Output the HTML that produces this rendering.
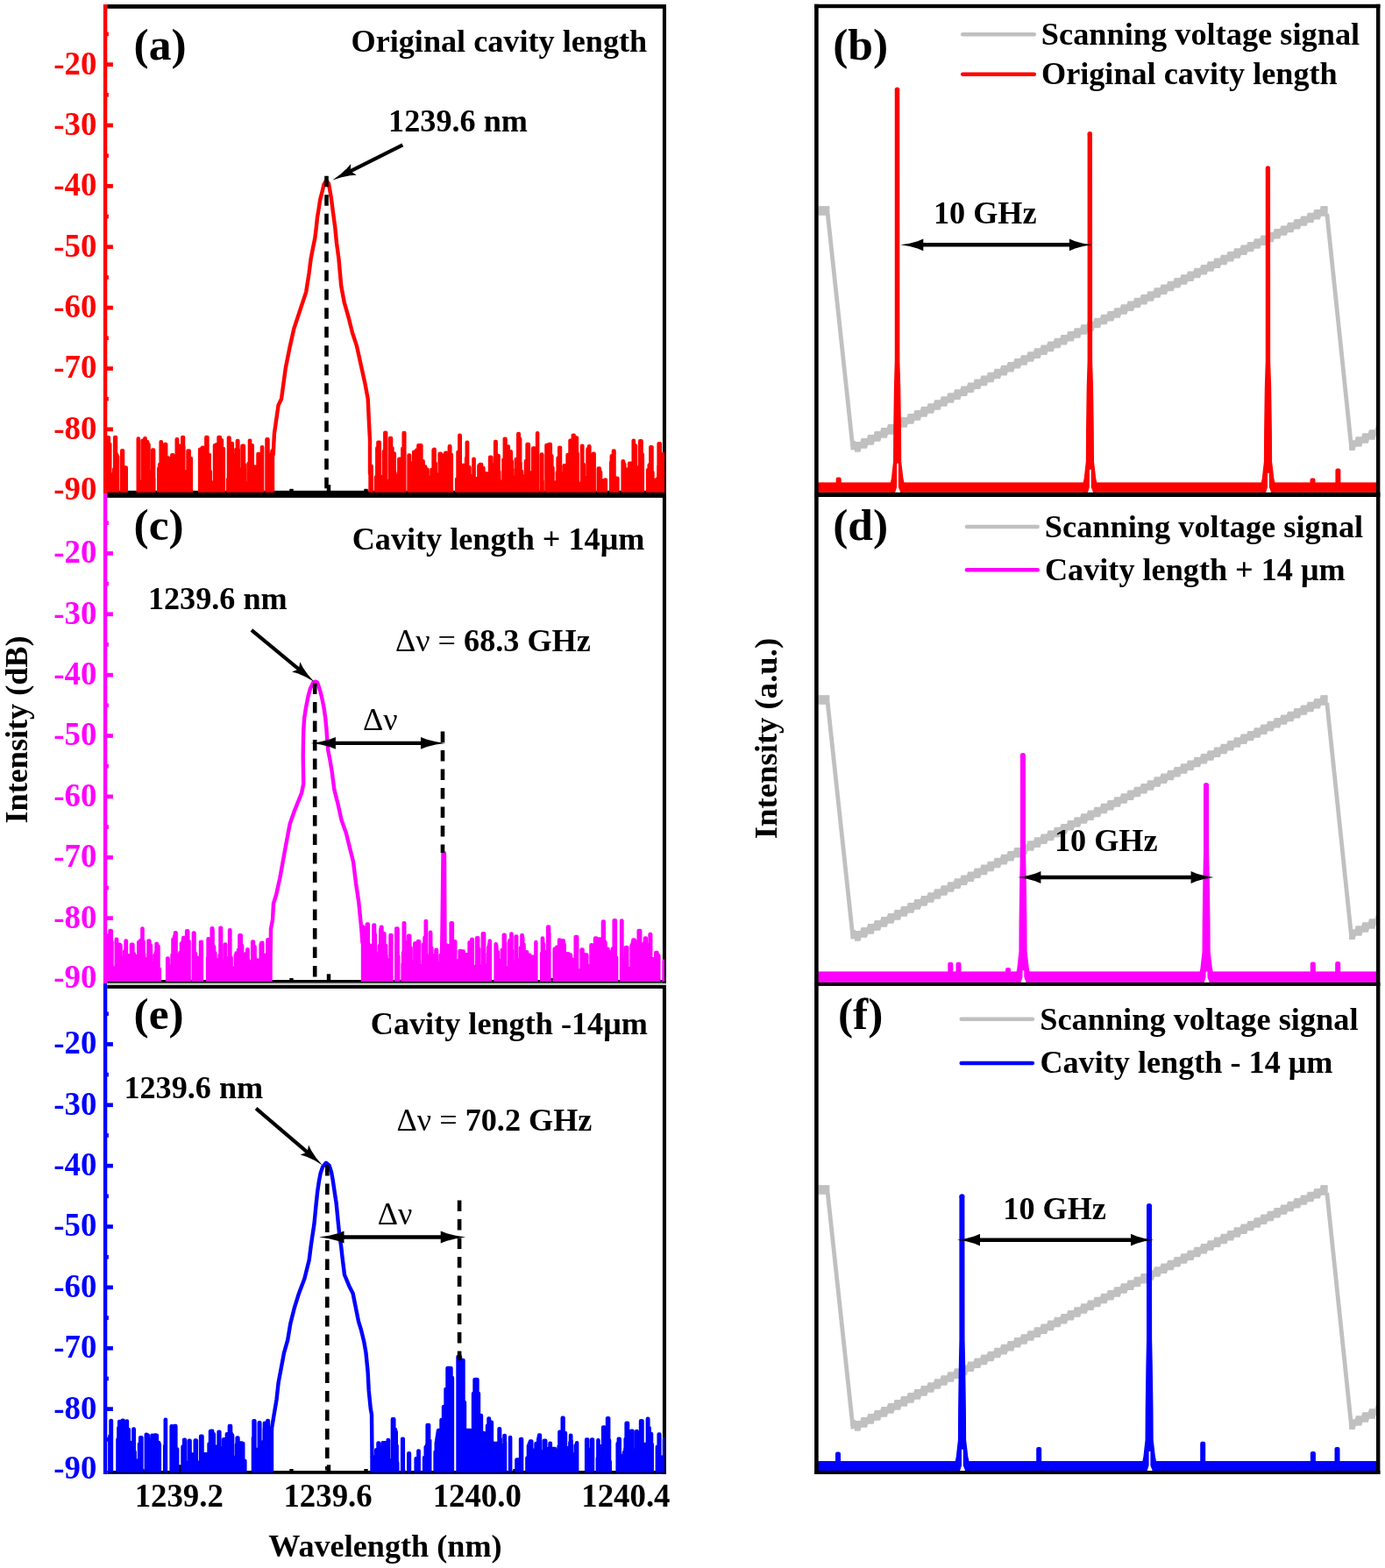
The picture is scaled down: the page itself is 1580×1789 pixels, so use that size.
<!DOCTYPE html>
<html><head><meta charset="utf-8"><title>Figure</title><style>html,body{margin:0;padding:0;background:#fff;}svg{display:block;}</style></head><body>
<svg width="1580" height="1789" viewBox="0 0 1580 1789" font-family="&quot;Liberation Serif&quot;, serif">
<rect x="0" y="0" width="1580" height="1789" fill="#fff"/>
<rect x="117.90" y="5.00" width="4.40" height="558.70" fill="#ff0000"/>
<rect x="122.00" y="71.26" width="6.90" height="4.70" fill="#ff0000"/>
<text transform="translate(61.34,84.51) scale(1,1.055)" font-size="36.8" font-weight="bold" fill="#ff0000">-20</text>
<rect x="122.00" y="140.63" width="6.90" height="4.70" fill="#ff0000"/>
<text transform="translate(61.34,153.88) scale(1,1.055)" font-size="36.8" font-weight="bold" fill="#ff0000">-30</text>
<rect x="122.00" y="210.00" width="6.90" height="4.70" fill="#ff0000"/>
<text transform="translate(61.34,223.25) scale(1,1.055)" font-size="36.8" font-weight="bold" fill="#ff0000">-40</text>
<rect x="122.00" y="279.37" width="6.90" height="4.70" fill="#ff0000"/>
<text transform="translate(61.34,292.62) scale(1,1.055)" font-size="36.8" font-weight="bold" fill="#ff0000">-50</text>
<rect x="122.00" y="348.74" width="6.90" height="4.70" fill="#ff0000"/>
<text transform="translate(61.34,361.99) scale(1,1.055)" font-size="36.8" font-weight="bold" fill="#ff0000">-60</text>
<rect x="122.00" y="418.11" width="6.90" height="4.70" fill="#ff0000"/>
<text transform="translate(61.34,431.36) scale(1,1.055)" font-size="36.8" font-weight="bold" fill="#ff0000">-70</text>
<rect x="122.00" y="487.48" width="6.90" height="4.70" fill="#ff0000"/>
<text transform="translate(61.34,500.73) scale(1,1.055)" font-size="36.8" font-weight="bold" fill="#ff0000">-80</text>
<text transform="translate(61.34,569.60) scale(1,1.055)" font-size="36.8" font-weight="bold" fill="#ff0000">-90</text>
<rect x="122.00" y="36.63" width="1.90" height="4.60" fill="#ff0000"/>
<rect x="122.00" y="106.00" width="1.90" height="4.60" fill="#ff0000"/>
<rect x="122.00" y="175.37" width="1.90" height="4.60" fill="#ff0000"/>
<rect x="122.00" y="244.74" width="1.90" height="4.60" fill="#ff0000"/>
<rect x="122.00" y="314.11" width="1.90" height="4.60" fill="#ff0000"/>
<rect x="122.00" y="383.48" width="1.90" height="4.60" fill="#ff0000"/>
<rect x="122.00" y="452.85" width="1.90" height="4.60" fill="#ff0000"/>
<rect x="122.00" y="522.22" width="1.90" height="4.60" fill="#ff0000"/>
<rect x="117.90" y="563.70" width="4.40" height="558.30" fill="#ff00ff"/>
<rect x="122.00" y="629.06" width="6.90" height="4.70" fill="#ff00ff"/>
<text transform="translate(61.34,642.31) scale(1,1.055)" font-size="36.8" font-weight="bold" fill="#ff00ff">-20</text>
<rect x="122.00" y="698.43" width="6.90" height="4.70" fill="#ff00ff"/>
<text transform="translate(61.34,711.68) scale(1,1.055)" font-size="36.8" font-weight="bold" fill="#ff00ff">-30</text>
<rect x="122.00" y="767.80" width="6.90" height="4.70" fill="#ff00ff"/>
<text transform="translate(61.34,781.05) scale(1,1.055)" font-size="36.8" font-weight="bold" fill="#ff00ff">-40</text>
<rect x="122.00" y="837.17" width="6.90" height="4.70" fill="#ff00ff"/>
<text transform="translate(61.34,850.42) scale(1,1.055)" font-size="36.8" font-weight="bold" fill="#ff00ff">-50</text>
<rect x="122.00" y="906.54" width="6.90" height="4.70" fill="#ff00ff"/>
<text transform="translate(61.34,919.79) scale(1,1.055)" font-size="36.8" font-weight="bold" fill="#ff00ff">-60</text>
<rect x="122.00" y="975.91" width="6.90" height="4.70" fill="#ff00ff"/>
<text transform="translate(61.34,989.16) scale(1,1.055)" font-size="36.8" font-weight="bold" fill="#ff00ff">-70</text>
<rect x="122.00" y="1045.28" width="6.90" height="4.70" fill="#ff00ff"/>
<text transform="translate(61.34,1058.53) scale(1,1.055)" font-size="36.8" font-weight="bold" fill="#ff00ff">-80</text>
<text transform="translate(61.34,1127.40) scale(1,1.055)" font-size="36.8" font-weight="bold" fill="#ff00ff">-90</text>
<rect x="122.00" y="594.43" width="1.90" height="4.60" fill="#ff00ff"/>
<rect x="122.00" y="663.80" width="1.90" height="4.60" fill="#ff00ff"/>
<rect x="122.00" y="733.16" width="1.90" height="4.60" fill="#ff00ff"/>
<rect x="122.00" y="802.54" width="1.90" height="4.60" fill="#ff00ff"/>
<rect x="122.00" y="871.90" width="1.90" height="4.60" fill="#ff00ff"/>
<rect x="122.00" y="941.28" width="1.90" height="4.60" fill="#ff00ff"/>
<rect x="122.00" y="1010.64" width="1.90" height="4.60" fill="#ff00ff"/>
<rect x="122.00" y="1080.02" width="1.90" height="4.60" fill="#ff00ff"/>
<rect x="117.90" y="1122.00" width="4.40" height="560.00" fill="#0000ff"/>
<rect x="122.00" y="1189.06" width="6.90" height="4.70" fill="#0000ff"/>
<text transform="translate(61.34,1202.31) scale(1,1.055)" font-size="36.8" font-weight="bold" fill="#0000ff">-20</text>
<rect x="122.00" y="1258.43" width="6.90" height="4.70" fill="#0000ff"/>
<text transform="translate(61.34,1271.68) scale(1,1.055)" font-size="36.8" font-weight="bold" fill="#0000ff">-30</text>
<rect x="122.00" y="1327.80" width="6.90" height="4.70" fill="#0000ff"/>
<text transform="translate(61.34,1341.05) scale(1,1.055)" font-size="36.8" font-weight="bold" fill="#0000ff">-40</text>
<rect x="122.00" y="1397.17" width="6.90" height="4.70" fill="#0000ff"/>
<text transform="translate(61.34,1410.42) scale(1,1.055)" font-size="36.8" font-weight="bold" fill="#0000ff">-50</text>
<rect x="122.00" y="1466.54" width="6.90" height="4.70" fill="#0000ff"/>
<text transform="translate(61.34,1479.79) scale(1,1.055)" font-size="36.8" font-weight="bold" fill="#0000ff">-60</text>
<rect x="122.00" y="1535.91" width="6.90" height="4.70" fill="#0000ff"/>
<text transform="translate(61.34,1549.16) scale(1,1.055)" font-size="36.8" font-weight="bold" fill="#0000ff">-70</text>
<rect x="122.00" y="1605.28" width="6.90" height="4.70" fill="#0000ff"/>
<text transform="translate(61.34,1618.53) scale(1,1.055)" font-size="36.8" font-weight="bold" fill="#0000ff">-80</text>
<text transform="translate(61.34,1687.40) scale(1,1.055)" font-size="36.8" font-weight="bold" fill="#0000ff">-90</text>
<rect x="122.00" y="1154.42" width="1.90" height="4.60" fill="#0000ff"/>
<rect x="122.00" y="1223.80" width="1.90" height="4.60" fill="#0000ff"/>
<rect x="122.00" y="1293.16" width="1.90" height="4.60" fill="#0000ff"/>
<rect x="122.00" y="1362.54" width="1.90" height="4.60" fill="#0000ff"/>
<rect x="122.00" y="1431.90" width="1.90" height="4.60" fill="#0000ff"/>
<rect x="122.00" y="1501.28" width="1.90" height="4.60" fill="#0000ff"/>
<rect x="122.00" y="1570.64" width="1.90" height="4.60" fill="#0000ff"/>
<rect x="122.00" y="1640.02" width="1.90" height="4.60" fill="#0000ff"/>
<rect x="122.30" y="5.00" width="637.70" height="4.80" fill="#000"/>
<rect x="755.90" y="5.00" width="4.10" height="1677.00" fill="#000"/>
<rect x="122.30" y="559.80" width="637.70" height="8.10" fill="#000"/>
<rect x="122.30" y="1118.00" width="637.70" height="3.70" fill="#000"/>
<rect x="122.30" y="1121.70" width="637.70" height="2.30" fill="#c8c8c8"/>
<rect x="122.30" y="1124.00" width="637.70" height="3.90" fill="#000"/>
<rect x="122.30" y="1678.00" width="637.70" height="3.80" fill="#000"/>
<rect x="160.30" y="557.80" width="4.40" height="2.50" fill="#000"/>
<rect x="202.80" y="553.10" width="4.40" height="7.20" fill="#000"/>
<rect x="245.30" y="557.80" width="4.40" height="2.50" fill="#000"/>
<rect x="287.80" y="557.80" width="4.40" height="2.50" fill="#000"/>
<rect x="330.30" y="557.80" width="4.40" height="2.50" fill="#000"/>
<rect x="372.80" y="553.10" width="4.40" height="7.20" fill="#000"/>
<rect x="415.30" y="557.80" width="4.40" height="2.50" fill="#000"/>
<rect x="457.80" y="557.80" width="4.40" height="2.50" fill="#000"/>
<rect x="500.30" y="557.80" width="4.40" height="2.50" fill="#000"/>
<rect x="542.80" y="553.10" width="4.40" height="7.20" fill="#000"/>
<rect x="585.30" y="557.80" width="4.40" height="2.50" fill="#000"/>
<rect x="627.80" y="557.80" width="4.40" height="2.50" fill="#000"/>
<rect x="670.30" y="557.80" width="4.40" height="2.50" fill="#000"/>
<rect x="712.80" y="553.10" width="4.40" height="7.20" fill="#000"/>
<rect x="160.30" y="1116.00" width="4.40" height="2.50" fill="#000"/>
<rect x="202.80" y="1111.30" width="4.40" height="7.20" fill="#000"/>
<rect x="245.30" y="1116.00" width="4.40" height="2.50" fill="#000"/>
<rect x="287.80" y="1116.00" width="4.40" height="2.50" fill="#000"/>
<rect x="330.30" y="1116.00" width="4.40" height="2.50" fill="#000"/>
<rect x="372.80" y="1111.30" width="4.40" height="7.20" fill="#000"/>
<rect x="415.30" y="1116.00" width="4.40" height="2.50" fill="#000"/>
<rect x="457.80" y="1116.00" width="4.40" height="2.50" fill="#000"/>
<rect x="500.30" y="1116.00" width="4.40" height="2.50" fill="#000"/>
<rect x="542.80" y="1111.30" width="4.40" height="7.20" fill="#000"/>
<rect x="585.30" y="1116.00" width="4.40" height="2.50" fill="#000"/>
<rect x="627.80" y="1116.00" width="4.40" height="2.50" fill="#000"/>
<rect x="670.30" y="1116.00" width="4.40" height="2.50" fill="#000"/>
<rect x="712.80" y="1111.30" width="4.40" height="7.20" fill="#000"/>
<rect x="160.30" y="1676.00" width="4.40" height="2.50" fill="#000"/>
<rect x="202.80" y="1671.30" width="4.40" height="7.20" fill="#000"/>
<rect x="245.30" y="1676.00" width="4.40" height="2.50" fill="#000"/>
<rect x="287.80" y="1676.00" width="4.40" height="2.50" fill="#000"/>
<rect x="330.30" y="1676.00" width="4.40" height="2.50" fill="#000"/>
<rect x="372.80" y="1671.30" width="4.40" height="7.20" fill="#000"/>
<rect x="415.30" y="1676.00" width="4.40" height="2.50" fill="#000"/>
<rect x="457.80" y="1676.00" width="4.40" height="2.50" fill="#000"/>
<rect x="500.30" y="1676.00" width="4.40" height="2.50" fill="#000"/>
<rect x="542.80" y="1671.30" width="4.40" height="7.20" fill="#000"/>
<rect x="585.30" y="1676.00" width="4.40" height="2.50" fill="#000"/>
<rect x="627.80" y="1676.00" width="4.40" height="2.50" fill="#000"/>
<rect x="670.30" y="1676.00" width="4.40" height="2.50" fill="#000"/>
<rect x="712.80" y="1671.30" width="4.40" height="7.20" fill="#000"/>
<text transform="translate(153.66,1719.00) scale(1,1.05)" font-size="36.8" font-weight="bold" fill="#000">1239.2</text>
<text transform="translate(323.48,1719.00) scale(1,1.05)" font-size="36.8" font-weight="bold" fill="#000">1239.6</text>
<text transform="translate(493.66,1719.00) scale(1,1.05)" font-size="36.8" font-weight="bold" fill="#000">1240.0</text>
<text transform="translate(663.30,1719.00) scale(1,1.05)" font-size="36.8" font-weight="bold" fill="#000">1240.4</text>
<text x="306.24" y="1775.60" font-size="36.2" font-weight="bold" fill="#000">Wavelength (nm)</text>
<text transform="translate(30.50,939.57) rotate(-90)" x="0" y="0" font-size="36.2" font-weight="bold" fill="#000">Intensity (dB)</text>
<text transform="translate(886.20,957.18) rotate(-90)" x="0" y="0" font-size="36.7" font-weight="bold" fill="#000">Intensity (a.u.)</text>
<clipPath id="clip0"><rect x="122" y="0" width="636" height="561.80"/></clipPath>
<g clip-path="url(#clip0)">
<polygon points="120.50,566.20 120.50,525.06 121.48,525.06 121.48,501.42 122.51,501.42 122.51,515.61 122.84,515.61 122.84,499.09 124.01,499.09 124.01,511.25 125.07,511.25 125.07,506.79 125.35,506.79 125.35,541.57 130.22,541.57 130.22,535.20 131.15,535.20 131.15,498.88 131.99,498.88 131.99,518.52 133.18,518.52 133.18,538.56 133.48,538.56 133.48,520.98 134.22,520.98 134.22,566.20 139.22,566.20 139.22,514.21 140.08,514.21 140.08,533.36 143.80,533.36 143.80,566.20 157.70,566.20 157.70,500.53 158.02,500.53 158.02,549.81 162.72,549.81 162.72,502.68 164.03,502.68 164.03,504.98 165.26,504.98 165.26,500.21 165.76,500.21 165.76,508.18 167.20,508.18 167.20,504.31 168.29,504.31 168.29,507.19 169.58,507.19 169.58,538.11 174.15,538.11 174.15,513.45 175.19,513.45 175.19,545.75 175.40,545.75 175.40,566.20 181.20,566.20 181.20,534.45 181.62,534.45 181.62,548.79 182.08,548.79 182.08,529.93 183.61,529.93 183.61,504.13 183.96,504.13 183.96,525.92 184.52,525.92 184.52,520.83 184.96,520.83 184.96,529.05 185.95,529.05 185.95,515.63 187.43,515.63 187.43,514.04 188.25,514.04 188.25,507.02 189.25,507.02 189.25,540.80 190.83,540.80 190.83,522.32 191.22,522.32 191.22,522.77 192.41,522.77 192.41,534.87 193.28,534.87 193.28,538.41 193.59,538.41 193.59,548.79 194.82,548.79 194.82,548.79 195.51,548.79 195.51,548.79 196.29,548.79 196.29,519.23 197.37,519.23 197.37,548.79 197.68,548.79 197.68,526.20 198.90,526.20 198.90,537.02 199.72,537.02 199.72,543.01 199.96,543.01 199.96,537.30 201.14,537.30 201.14,526.62 201.70,526.62 201.70,501.21 202.18,501.21 202.18,508.15 203.63,508.15 203.63,547.97 204.43,547.97 204.43,531.79 205.17,531.79 205.17,541.42 206.06,541.42 206.06,513.91 207.59,513.91 207.59,508.06 208.18,508.06 208.18,498.97 209.07,498.97 209.07,509.16 209.38,509.16 209.38,538.41 214.44,538.41 214.44,514.35 215.75,514.35 215.75,525.20 215.98,525.20 215.98,534.10 216.25,534.10 216.25,548.79 217.37,548.79 217.37,522.97 217.85,522.97 217.85,566.20 221.90,566.20 221.90,566.20 228.10,566.20 228.10,512.77 228.55,512.77 228.55,546.01 229.48,546.01 229.48,529.54 230.79,529.54 230.79,510.64 232.00,510.64 232.00,515.44 233.47,515.44 233.47,525.19 234.79,525.19 234.79,547.38 235.28,547.38 235.28,498.98 236.48,498.98 236.48,532.01 237.43,532.01 237.43,518.89 238.83,518.89 238.83,537.94 239.80,537.94 239.80,550.71 244.95,550.71 244.95,508.21 245.39,508.21 245.39,537.48 245.80,537.48 245.80,529.74 246.96,529.74 246.96,507.22 247.28,507.22 247.28,540.00 248.50,540.00 248.50,516.26 249.49,516.26 249.49,499.07 250.95,499.07 250.95,506.07 251.95,506.07 251.95,502.21 253.00,502.21 253.00,526.22 254.32,526.22 254.32,530.57 254.61,530.57 254.61,511.85 254.90,511.85 254.90,566.20 260.10,566.20 260.10,546.68 260.91,546.68 260.91,499.37 261.55,499.37 261.55,516.21 262.84,516.21 262.84,511.16 264.00,511.16 264.00,529.93 264.35,529.93 264.35,505.93 264.90,505.93 264.90,519.74 265.63,519.74 265.63,545.58 266.11,545.58 266.11,548.79 267.51,548.79 267.51,548.79 268.74,548.79 268.74,526.75 269.38,526.75 269.38,512.98 270.83,512.98 270.83,502.86 271.39,502.86 271.39,512.80 271.77,512.80 271.77,535.70 276.43,535.70 276.43,508.80 277.98,508.80 277.98,530.29 278.89,530.29 278.89,551.35 283.47,551.35 283.47,528.94 284.39,528.94 284.39,548.79 284.88,548.79 284.88,502.58 285.21,502.58 285.21,516.68 285.87,516.68 285.87,511.20 286.91,511.20 286.91,519.83 287.36,519.83 287.36,508.14 287.84,508.14 287.84,532.80 293.05,532.80 293.05,536.20 294.46,536.20 294.46,518.02 295.36,518.02 295.36,541.98 296.84,541.98 296.84,528.33 297.61,528.33 297.61,529.52 298.88,529.52 298.88,510.18 299.18,510.18 299.18,566.20 304.45,566.20 304.45,501.16 305.53,501.16 305.53,535.58 306.65,535.58 306.65,548.12 308.25,548.12 308.25,518.62 309.82,518.62 309.82,521.26 310.38,521.26 310.38,514.51 311.00,514.51 311.00,566.20" fill="#ff0000" stroke="#ff0000" stroke-width="4.4" stroke-linejoin="round"/>
<polygon points="422.50,566.20 422.50,531.69 423.62,531.69 423.62,566.20 428.93,566.20 428.93,544.14 430.27,544.14 430.27,511.14 431.39,511.14 431.39,504.58 432.86,504.58 432.86,544.08 437.91,544.08 437.91,515.06 439.29,515.06 439.29,493.67 440.20,493.67 440.20,548.98 445.04,548.98 445.04,499.88 446.11,499.88 446.11,511.08 447.45,511.08 447.45,519.86 448.32,519.86 448.32,517.53 449.88,517.53 449.88,539.72 450.58,539.72 450.58,543.44 455.27,543.44 455.27,523.68 456.61,523.68 456.61,528.75 457.41,528.75 457.41,531.83 458.15,531.83 458.15,528.90 458.60,528.90 458.60,529.27 459.28,529.27 459.28,511.70 459.77,511.70 459.77,524.31 460.65,524.31 460.65,493.91 461.36,493.91 461.36,566.20 466.47,566.20 466.47,519.38 467.15,519.38 467.15,528.38 472.14,528.38 472.14,515.61 473.05,515.61 473.05,529.82 474.41,529.82 474.41,533.42 475.28,533.42 475.28,513.43 476.73,513.43 476.73,522.38 477.32,522.38 477.32,508.13 478.51,508.13 478.51,528.32 479.66,528.32 479.66,508.18 480.45,508.18 480.45,548.79 481.44,548.79 481.44,526.29 482.70,526.29 482.70,540.89 484.01,540.89 484.01,532.43 485.24,532.43 485.24,548.79 486.70,548.79 486.70,535.65 487.65,535.65 487.65,544.69 492.43,544.69 492.43,535.66 493.60,535.66 493.60,542.33 494.55,542.33 494.55,513.22 495.32,513.22 495.32,512.71 495.64,512.71 495.64,528.59 496.77,528.59 496.77,541.49 501.66,541.49 501.66,517.72 502.79,517.72 502.79,519.22 504.31,519.22 504.31,521.16 504.79,521.16 504.79,533.01 505.69,533.01 505.69,530.90 506.74,530.90 506.74,529.36 508.14,529.36 508.14,516.70 509.41,516.70 509.41,541.31 510.97,541.31 510.97,519.27 512.19,519.27 512.19,519.74 512.82,519.74 512.82,509.27 513.38,509.27 513.38,531.24 514.89,531.24 514.89,518.78 514.90,518.78 514.90,566.20 521.10,566.20 521.10,546.59 522.48,546.59 522.48,515.80 523.54,515.80 523.54,521.08 524.28,521.08 524.28,496.61 524.77,496.61 524.77,531.05 529.94,531.05 529.94,539.83 530.64,539.83 530.64,532.67 532.05,532.67 532.05,522.74 532.29,522.74 532.29,536.16 532.72,536.16 532.72,504.66 533.17,504.66 533.17,544.62 533.52,544.62 533.52,548.79 534.45,548.79 534.45,533.27 535.54,533.27 535.54,542.71 536.33,542.71 536.33,543.37 537.82,543.37 537.82,548.79 539.36,548.79 539.36,548.79 540.41,548.79 540.41,523.77 540.70,523.77 540.70,546.20 545.20,546.20 545.20,548.79 546.36,548.79 546.36,531.23 547.61,531.23 547.61,530.03 549.11,530.03 549.11,536.11 549.90,536.11 549.90,548.79 550.22,548.79 550.22,533.85 551.49,533.85 551.49,545.00 552.98,545.00 552.98,540.55 557.67,540.55 557.67,541.37 559.02,541.37 559.02,521.77 560.43,521.77 560.43,529.91 561.51,529.91 561.51,532.45 562.24,532.45 562.24,536.50 563.78,536.50 563.78,544.61 564.12,544.61 564.12,540.95 565.09,540.95 565.09,503.85 565.72,503.85 565.72,534.82 566.63,534.82 566.63,522.64 567.11,522.64 567.11,520.02 568.63,520.02 568.63,538.20 569.38,538.20 569.38,549.81 574.42,549.81 574.42,524.33 575.75,524.33 575.75,500.76 576.57,500.76 576.57,544.26 577.04,544.26 577.04,525.27 577.91,525.27 577.91,524.89 578.66,524.89 578.66,509.54 579.91,509.54 579.91,544.46 580.81,544.46 580.81,524.55 581.51,524.55 581.51,515.19 582.82,515.19 582.82,540.57 583.23,540.57 583.23,526.14 583.79,526.14 583.79,544.80 588.39,544.80 588.39,535.08 588.76,535.08 588.76,524.03 589.80,524.03 589.80,527.71 591.20,527.71 591.20,494.93 591.92,494.93 591.92,500.77 593.22,500.77 593.22,528.05 593.58,528.05 593.58,537.71 594.95,537.71 594.95,543.54 599.85,543.54 599.85,527.27 600.16,527.27 600.16,525.80 601.53,525.80 601.53,506.92 602.92,506.92 602.92,539.45 608.06,539.45 608.06,511.57 609.64,511.57 609.64,537.38 610.89,537.38 610.89,543.11 612.31,543.11 612.31,525.43 612.62,525.43 612.62,533.05 613.02,533.05 613.02,494.27 613.20,494.27 613.20,566.20 617.90,566.20 617.90,518.39 618.41,518.39 618.41,548.79 618.70,548.79 618.70,566.20 623.40,566.20 623.40,508.03 624.65,508.03 624.65,517.23 625.09,517.23 625.09,526.18 625.42,526.18 625.42,536.27 626.41,536.27 626.41,506.85 627.88,506.85 627.88,520.31 629.39,520.31 629.39,533.76 630.52,533.76 630.52,550.66 635.79,550.66 635.79,539.13 636.59,539.13 636.59,522.33 637.88,522.33 637.88,525.39 638.15,525.39 638.15,510.64 639.02,510.64 639.02,540.63 643.60,540.63 643.60,531.29 645.10,531.29 645.10,548.79 646.39,548.79 646.39,535.64 647.54,535.64 647.54,518.92 648.37,518.92 648.37,537.04 648.81,537.04 648.81,534.15 649.97,534.15 649.97,523.93 650.45,523.93 650.45,502.61 651.56,502.61 651.56,525.95 652.21,525.95 652.21,531.54 653.44,531.54 653.44,529.82 653.76,529.82 653.76,496.80 654.74,496.80 654.74,502.74 655.14,502.74 655.14,515.84 656.55,515.84 656.55,520.17 657.13,520.17 657.13,499.36 657.93,499.36 657.93,517.38 658.74,517.38 658.74,552.06 663.96,552.06 663.96,508.71 664.36,508.71 664.36,530.00 665.85,530.00 665.85,545.09 670.49,545.09 670.49,512.42 671.97,512.42 671.97,509.31 672.38,509.31 672.38,525.13 672.95,525.13 672.95,540.46 673.39,540.46 673.39,522.12 674.20,522.12 674.20,519.46 675.68,519.46 675.68,524.65 676.85,524.65 676.85,517.82 677.72,517.82 677.72,566.20 682.75,566.20 682.75,534.49 683.90,534.49 683.90,538.38 685.08,538.38 685.08,548.45 690.29,548.45 690.29,547.54 690.90,547.54 690.90,566.20 697.10,566.20 697.10,527.55 697.72,527.55 697.72,520.24 698.36,520.24 698.36,520.94 698.80,520.94 698.80,523.79 699.87,523.79 699.87,514.37 700.57,514.37 700.57,545.80 704.40,545.80 704.40,566.20 710.60,566.20 710.60,526.12 710.99,526.12 710.99,529.42 712.33,529.42 712.33,535.64 717.62,535.64 717.62,535.50 718.02,535.50 718.02,528.77 722.68,528.77 722.68,502.60 723.01,502.60 723.01,508.98 723.88,508.98 723.88,510.50 724.68,510.50 724.68,508.50 725.04,508.50 725.04,533.62 730.13,533.62 730.13,503.19 731.66,503.19 731.66,520.50 731.96,520.50 731.96,518.57 732.90,518.57 732.90,566.20 739.10,566.20 739.10,536.21 740.65,536.21 740.65,530.40 741.52,530.40 741.52,537.23 742.29,537.23 742.29,510.11 743.57,510.11 743.57,538.93 744.45,538.93 744.45,547.83 749.06,547.83 749.06,548.79 749.50,548.79 749.50,546.88 750.02,546.88 750.02,546.14 750.47,546.14 750.47,548.79 751.36,548.79 751.36,531.38 751.59,531.38 751.59,506.22 752.89,506.22 752.89,540.48 753.73,540.48 753.73,518.98 754.90,518.98 754.90,531.76 756.31,531.76 756.31,527.68 756.79,527.68 756.79,517.94 757.16,517.94 757.16,532.88 758.00,532.88 758.00,566.20" fill="#ff0000" stroke="#ff0000" stroke-width="4.4" stroke-linejoin="round"/>
<polyline points="311.00,514.51 311.70,518.50 312.90,495.00 315.20,478.60 317.60,462.20 321.00,455.20 325.80,420.00 330.50,396.50 335.20,375.40 342.20,354.20 349.20,333.10 352.50,312.00 354.70,294.80 357.00,283.00 359.40,271.30 360.80,259.60 362.00,247.80 363.50,239.00 365.20,227.90 367.60,218.50 369.50,210.50 372.30,205.80 375.00,209.50 377.60,224.30 379.90,242.00 382.30,259.60 384.00,277.20 386.40,294.80 389.20,326.00 392.70,344.80 397.40,361.30 402.10,380.00 406.80,394.10 411.50,415.30 416.20,436.40 419.70,455.20 420.80,478.60 422.00,502.00 422.00,540.00 422.50,531.69" fill="none" stroke="#ff0000" stroke-width="4.4" stroke-linejoin="round" stroke-linecap="butt"/>
</g>
<clipPath id="clip1"><rect x="122" y="0" width="636" height="1120.00"/></clipPath>
<g clip-path="url(#clip1)">
<polygon points="120.50,1124.00 120.50,1097.10 121.67,1097.10 121.67,1096.54 122.98,1096.54 122.98,1076.11 123.51,1076.11 123.51,1086.60 123.80,1086.60 123.80,1070.31 124.06,1070.31 124.06,1067.29 125.12,1067.29 125.12,1073.20 125.49,1073.20 125.49,1061.83 126.83,1061.83 126.83,1074.57 127.51,1074.57 127.51,1104.36 132.70,1104.36 132.70,1071.79 133.20,1071.79 133.20,1090.67 134.46,1090.67 134.46,1086.92 135.33,1086.92 135.33,1077.81 136.77,1077.81 136.77,1078.33 137.51,1078.33 137.51,1092.63 142.09,1092.63 142.09,1085.51 142.98,1085.51 142.98,1100.60 143.49,1100.60 143.49,1073.47 143.95,1073.47 143.95,1093.51 144.63,1093.51 144.63,1090.31 149.18,1090.31 149.18,1106.33 149.91,1106.33 149.91,1077.66 151.45,1077.66 151.45,1097.83 152.48,1097.83 152.48,1088.35 153.02,1088.35 153.02,1091.27 158.17,1091.27 158.17,1075.02 159.54,1075.02 159.54,1074.23 160.33,1074.23 160.33,1072.95 161.79,1072.95 161.79,1072.62 162.34,1072.62 162.34,1059.46 162.58,1059.46 162.58,1074.16 163.62,1074.16 163.62,1088.44 164.25,1088.44 164.25,1106.59 164.47,1106.59 164.47,1094.43 169.44,1094.43 169.44,1073.35 170.46,1073.35 170.46,1078.69 171.93,1078.69 171.93,1099.21 176.45,1099.21 176.45,1089.78 177.86,1089.78 177.86,1086.66 178.51,1086.66 178.51,1076.74 178.97,1076.74 178.97,1106.59 179.24,1106.59 179.24,1079.78 180.54,1079.78 180.54,1105.81 181.90,1105.81 181.90,1124.00 191.10,1124.00 191.10,1093.33 191.65,1093.33 191.65,1102.55 196.47,1102.55 196.47,1089.50 197.08,1089.50 197.08,1100.80 197.42,1100.80 197.42,1071.71 198.97,1071.71 198.97,1068.26 199.96,1068.26 199.96,1064.23 200.65,1064.23 200.65,1090.29 205.21,1090.29 205.21,1087.19 206.04,1087.19 206.04,1090.78 206.86,1090.78 206.86,1076.37 207.37,1076.37 207.37,1096.65 208.56,1096.65 208.56,1073.85 209.09,1073.85 209.09,1069.83 210.64,1069.83 210.64,1086.27 211.84,1086.27 211.84,1103.79 213.10,1103.79 213.10,1062.30 214.26,1062.30 214.26,1073.91 215.62,1073.91 215.62,1124.00 220.81,1124.00 220.81,1064.42 221.56,1064.42 221.56,1088.00 223.08,1088.00 223.08,1092.97 228.34,1092.97 228.34,1097.43 229.01,1097.43 229.01,1074.59 229.90,1074.59 229.90,1124.00 237.10,1124.00 237.10,1092.40 237.51,1092.40 237.51,1071.26 238.10,1071.26 238.10,1098.88 238.91,1098.88 238.91,1079.74 239.65,1079.74 239.65,1106.59 239.90,1106.59 239.90,1082.69 240.13,1082.69 240.13,1080.58 241.31,1080.58 241.31,1070.66 241.64,1070.66 241.64,1059.27 242.36,1059.27 242.36,1061.14 242.63,1061.14 242.63,1096.52 243.95,1096.52 243.95,1080.21 244.18,1080.21 244.18,1087.47 245.42,1087.47 245.42,1095.34 250.57,1095.34 250.57,1089.85 251.43,1089.85 251.43,1058.80 252.13,1058.80 252.13,1097.64 256.68,1097.64 256.68,1077.56 257.15,1077.56 257.15,1093.53 262.04,1093.53 262.04,1061.24 262.46,1061.24 262.46,1092.55 263.63,1092.55 263.63,1104.87 268.79,1104.87 268.79,1090.04 269.49,1090.04 269.49,1087.40 270.68,1087.40 270.68,1089.34 272.01,1089.34 272.01,1083.36 273.30,1083.36 273.30,1067.25 274.86,1067.25 274.86,1078.99 276.17,1078.99 276.17,1099.28 277.22,1099.28 277.22,1098.13 278.72,1098.13 278.72,1104.57 280.32,1104.57 280.32,1088.10 281.75,1088.10 281.75,1103.88 282.20,1103.88 282.20,1083.31 282.59,1083.31 282.59,1093.79 282.82,1093.79 282.82,1097.36 288.07,1097.36 288.07,1074.47 288.99,1074.47 288.99,1102.01 290.08,1102.01 290.08,1080.21 290.64,1080.21 290.64,1093.46 291.21,1093.46 291.21,1095.82 296.37,1095.82 296.37,1106.59 297.60,1106.59 297.60,1077.26 298.35,1077.26 298.35,1075.73 299.36,1075.73 299.36,1089.57 300.58,1089.57 300.58,1090.00 305.38,1090.00 305.38,1072.12 306.23,1072.12 306.23,1093.38 307.40,1093.38 307.40,1099.76 307.95,1099.76 307.95,1094.69 308.43,1094.69 308.43,1094.68 308.50,1094.68 308.50,1124.00" fill="#ff00ff" stroke="#ff00ff" stroke-width="4.4" stroke-linejoin="round"/>
<polygon points="414.00,1124.00 414.00,1057.39 414.40,1057.39 414.40,1085.29 414.77,1085.29 414.77,1077.20 415.29,1077.20 415.29,1106.59 416.79,1106.59 416.79,1090.24 417.06,1090.24 417.06,1090.55 417.53,1090.55 417.53,1076.77 418.81,1076.77 418.81,1054.48 419.87,1054.48 419.87,1088.33 421.41,1088.33 421.41,1078.66 422.54,1078.66 422.54,1084.49 422.79,1084.49 422.79,1106.59 423.56,1106.59 423.56,1095.35 424.28,1095.35 424.28,1087.26 425.24,1087.26 425.24,1085.98 425.57,1085.98 425.57,1086.75 426.33,1086.75 426.33,1055.46 427.09,1055.46 427.09,1065.96 427.78,1065.96 427.78,1094.73 428.03,1094.73 428.03,1092.15 428.51,1092.15 428.51,1088.17 429.87,1088.17 429.87,1092.37 430.77,1092.37 430.77,1092.85 432.01,1092.85 432.01,1106.59 432.71,1106.59 432.71,1079.15 434.23,1079.15 434.23,1060.46 434.90,1060.46 434.90,1057.76 435.48,1057.76 435.48,1063.01 435.85,1063.01 435.85,1072.03 436.30,1072.03 436.30,1067.72 436.79,1067.72 436.79,1076.78 438.16,1076.78 438.16,1065.15 438.40,1065.15 438.40,1097.30 439.65,1097.30 439.65,1078.87 440.18,1078.87 440.18,1089.99 440.60,1089.99 440.60,1095.41 445.50,1095.41 445.50,1066.97 446.38,1066.97 446.38,1124.00 452.18,1124.00 452.18,1059.52 453.56,1059.52 453.56,1090.84 454.24,1090.84 454.24,1124.00 459.56,1124.00 459.56,1099.80 460.01,1099.80 460.01,1086.84 460.72,1086.84 460.72,1053.11 461.31,1053.11 461.31,1075.05 462.65,1075.05 462.65,1090.54 464.07,1090.54 464.07,1075.73 464.55,1075.73 464.55,1099.80 465.08,1099.80 465.08,1099.75 466.06,1099.75 466.06,1067.80 467.33,1067.80 467.33,1081.27 468.66,1081.27 468.66,1097.81 473.31,1097.81 473.31,1076.24 474.78,1076.24 474.78,1078.09 475.44,1078.09 475.44,1092.79 476.91,1092.79 476.91,1073.86 477.50,1073.86 477.50,1074.29 478.12,1074.29 478.12,1102.00 482.97,1102.00 482.97,1077.54 483.84,1077.54 483.84,1101.98 484.47,1101.98 484.47,1069.49 485.20,1069.49 485.20,1070.47 485.70,1070.47 485.70,1050.96 486.09,1050.96 486.09,1090.61 490.98,1090.61 490.98,1063.68 491.28,1063.68 491.28,1081.35 492.29,1081.35 492.29,1090.45 497.34,1090.45 497.34,1083.75 498.05,1083.75 498.05,1099.06 502.67,1099.06 502.67,1089.64 503.17,1089.64 503.17,1091.39 503.40,1091.39 503.40,1106.59 503.94,1106.59 503.94,1092.89 504.50,1061.50 505.50,973.50 507.00,973.50 507.50,1075.38 504.69,1092.89 504.69,1105.97 506.18,1105.97 506.18,1100.65 507.60,1100.65 507.60,1103.28 508.75,1103.28 508.75,1078.38 509.73,1078.38 509.73,1100.07 511.30,1100.07 511.30,1095.22 511.68,1095.22 511.68,1094.75 512.31,1094.75 512.31,1079.31 513.51,1079.31 513.51,1083.80 514.62,1083.80 514.62,1053.12 515.95,1053.12 515.95,1073.95 516.29,1073.95 516.29,1088.98 516.61,1088.98 516.61,1105.83 517.44,1105.83 517.44,1089.60 517.89,1089.60 517.89,1096.95 518.19,1096.95 518.19,1074.16 519.26,1074.16 519.26,1096.35 519.79,1096.35 519.79,1096.46 524.56,1096.46 524.56,1085.04 526.03,1085.04 526.03,1085.54 527.19,1085.54 527.19,1085.35 528.68,1085.35 528.68,1089.31 533.68,1089.31 533.68,1106.59 534.28,1106.59 534.28,1094.61 534.88,1094.61 534.88,1098.35 535.52,1098.35 535.52,1075.24 535.75,1075.24 535.75,1094.43 537.06,1094.43 537.06,1082.96 538.28,1082.96 538.28,1071.72 538.79,1071.72 538.79,1103.25 544.01,1103.25 544.01,1070.30 545.24,1070.30 545.24,1082.35 546.18,1082.35 546.18,1102.52 550.80,1102.52 550.80,1065.12 552.16,1065.12 552.16,1101.51 556.84,1101.51 556.84,1088.26 557.25,1088.26 557.25,1080.72 558.13,1080.72 558.13,1076.96 558.69,1076.96 558.69,1073.54 558.90,1073.54 558.90,1124.00 565.60,1124.00 565.60,1077.16 565.90,1077.16 565.90,1079.26 566.38,1079.26 566.38,1086.09 567.92,1086.09 567.92,1095.87 572.81,1095.87 572.81,1083.70 573.60,1083.70 573.60,1096.94 574.75,1096.94 574.75,1066.70 575.68,1066.70 575.68,1075.67 576.33,1075.67 576.33,1104.33 581.26,1104.33 581.26,1073.31 582.17,1073.31 582.17,1098.87 583.32,1098.87 583.32,1065.57 583.55,1065.57 583.55,1083.76 583.90,1083.76 583.90,1097.96 588.48,1097.96 588.48,1068.51 589.23,1068.51 589.23,1095.53 593.97,1095.53 593.97,1081.17 595.37,1081.17 595.37,1067.07 595.74,1067.07 595.74,1069.68 596.32,1069.68 596.32,1077.73 597.63,1077.73 597.63,1105.56 598.87,1105.56 598.87,1098.19 599.40,1098.19 599.40,1099.47 600.75,1099.47 600.75,1086.09 601.07,1086.09 601.07,1092.58 602.23,1092.58 602.23,1106.59 603.39,1106.59 603.39,1089.75 604.42,1089.75 604.42,1097.34 605.14,1097.34 605.14,1095.08 606.33,1095.08 606.33,1091.82 611.36,1091.82 611.36,1074.91 611.40,1074.91 611.40,1124.00 618.10,1124.00 618.10,1087.43 618.84,1087.43 618.84,1070.47 619.11,1070.47 619.11,1077.01 620.05,1077.01 620.05,1086.50 625.13,1086.50 625.13,1057.47 626.05,1057.47 626.05,1091.28 626.36,1091.28 626.36,1064.66 626.40,1064.66 626.40,1124.00 632.60,1124.00 632.60,1082.66 634.01,1082.66 634.01,1096.32 634.93,1096.32 634.93,1080.58 635.94,1080.58 635.94,1096.03 637.27,1096.03 637.27,1086.26 637.97,1086.26 637.97,1072.55 638.49,1072.55 638.49,1090.35 639.56,1090.35 639.56,1094.98 640.33,1094.98 640.33,1093.87 640.66,1093.87 640.66,1088.12 641.48,1088.12 641.48,1073.21 642.73,1073.21 642.73,1077.80 643.72,1077.80 643.72,1088.29 648.46,1088.29 648.46,1096.15 650.04,1096.15 650.04,1089.47 651.03,1089.47 651.03,1094.50 652.49,1094.50 652.49,1103.19 652.83,1103.19 652.83,1102.12 654.01,1102.12 654.01,1096.90 655.57,1096.90 655.57,1105.85 656.67,1105.85 656.67,1068.95 658.24,1068.95 658.24,1107.48 663.53,1107.48 663.53,1083.47 664.59,1083.47 664.59,1093.39 665.10,1093.39 665.10,1106.59 665.93,1106.59 665.93,1089.25 667.37,1089.25 667.37,1100.65 667.74,1100.65 667.74,1089.35 668.62,1089.35 668.62,1089.53 669.40,1089.53 669.40,1102.14 674.45,1102.14 674.45,1078.23 675.21,1078.23 675.21,1087.08 676.59,1087.08 676.59,1087.07 677.51,1087.07 677.51,1079.55 678.98,1079.55 678.98,1070.55 680.29,1070.55 680.29,1081.61 681.20,1081.61 681.20,1073.56 682.61,1073.56 682.61,1082.86 683.21,1082.86 683.21,1071.40 684.59,1071.40 684.59,1096.26 686.04,1096.26 686.04,1100.51 687.18,1100.51 687.18,1093.70 687.55,1093.70 687.55,1087.21 687.89,1087.21 687.89,1051.39 688.79,1051.39 688.79,1073.88 689.79,1073.88 689.79,1075.09 690.50,1075.09 690.50,1097.72 691.04,1097.72 691.04,1088.26 692.29,1088.26 692.29,1082.67 693.57,1082.67 693.57,1086.56 698.69,1086.56 698.69,1082.53 699.23,1082.53 699.23,1090.01 700.63,1090.01 700.63,1050.19 701.93,1050.19 701.93,1092.38 703.18,1092.38 703.18,1124.00 709.07,1124.00 709.07,1050.38 709.48,1050.38 709.48,1093.12 714.00,1093.12 714.00,1080.91 715.41,1080.91 715.41,1105.22 720.54,1105.22 720.54,1078.34 721.42,1078.34 721.42,1078.60 721.69,1078.60 721.69,1075.41 722.32,1075.41 722.32,1072.48 723.72,1072.48 723.72,1080.25 724.87,1080.25 724.87,1081.29 725.37,1081.29 725.37,1074.81 726.70,1074.81 726.70,1080.52 727.32,1080.52 727.32,1104.07 728.63,1104.07 728.63,1061.85 730.23,1061.85 730.23,1084.15 731.77,1084.15 731.77,1099.94 733.32,1099.94 733.32,1086.51 734.64,1086.51 734.64,1076.37 735.85,1076.37 735.85,1070.46 736.88,1070.46 736.88,1101.28 737.89,1101.28 737.89,1096.41 738.20,1096.41 738.20,1092.10 739.35,1092.10 739.35,1095.10 739.79,1095.10 739.79,1077.98 741.06,1077.98 741.06,1097.05 741.54,1097.05 741.54,1066.03 742.26,1066.03 742.26,1094.16 747.00,1094.16 747.00,1106.59 748.18,1106.59 748.18,1087.06 749.54,1087.06 749.54,1090.31 751.40,1090.31 751.40,1124.00 757.60,1124.00 757.60,1096.70 758.00,1096.70 758.00,1124.00" fill="#ff00ff" stroke="#ff00ff" stroke-width="4.4" stroke-linejoin="round"/>
<polyline points="308.50,1094.68 309.00,1059.80 311.00,1049.50 312.00,1030.90 315.20,1020.50 319.30,1001.90 323.40,979.20 327.60,956.40 330.70,939.90 335.80,925.40 344.10,904.70 346.20,894.40 345.70,862.20 346.00,843.80 346.30,831.50 347.20,819.20 349.10,806.90 351.50,794.60 354.00,785.40 357.10,779.20 359.50,777.60 362.00,778.60 364.40,785.40 366.90,794.60 369.40,806.90 371.20,819.20 372.40,831.50 373.00,840.70 374.30,856.10 376.70,868.40 378.60,880.00 381.30,900.60 385.50,917.20 389.60,935.80 394.80,950.20 398.90,966.80 403.00,983.30 406.10,1008.10 409.20,1028.80 412.30,1059.80 413.40,1075.00 414.00,1057.39" fill="none" stroke="#ff00ff" stroke-width="4.4" stroke-linejoin="round" stroke-linecap="butt"/>
</g>
<clipPath id="clip2"><rect x="122" y="0" width="636" height="1680.00"/></clipPath>
<g clip-path="url(#clip2)">
<polygon points="120.50,1684.00 120.50,1684.00 125.31,1684.00 125.31,1638.42 126.47,1638.42 126.47,1621.07 127.00,1621.07 127.00,1684.00 134.40,1684.00 134.40,1642.21 135.35,1642.21 135.35,1628.96 135.68,1628.96 135.68,1629.36 136.16,1629.36 136.16,1621.87 136.65,1621.87 136.65,1637.77 138.03,1637.77 138.03,1631.95 139.61,1631.95 139.61,1620.60 140.72,1620.60 140.72,1636.58 141.82,1636.58 141.82,1637.06 142.49,1637.06 142.49,1635.95 144.03,1635.95 144.03,1621.88 144.66,1621.88 144.66,1621.49 144.99,1621.49 144.99,1630.59 145.33,1630.59 145.33,1630.94 146.92,1630.94 146.92,1659.53 147.74,1659.53 147.74,1646.20 152.32,1646.20 152.32,1630.45 152.79,1630.45 152.79,1656.57 153.66,1656.57 153.66,1666.59 154.38,1666.59 154.38,1666.71 158.97,1666.71 158.97,1647.35 160.14,1647.35 160.14,1640.21 161.41,1640.21 161.41,1684.00 166.72,1684.00 166.72,1636.82 167.17,1636.82 167.17,1650.00 167.44,1650.00 167.44,1637.56 168.79,1637.56 168.79,1660.24 169.96,1660.24 169.96,1666.59 170.89,1666.59 170.89,1642.93 171.75,1642.93 171.75,1645.97 172.99,1645.97 172.99,1644.95 173.42,1644.95 173.42,1637.62 173.82,1637.62 173.82,1651.76 175.01,1651.76 175.01,1649.92 176.24,1649.92 176.24,1637.54 177.70,1637.54 177.70,1640.06 178.41,1640.06 178.41,1637.58 178.88,1637.58 178.88,1652.24 179.60,1652.24 179.60,1650.97 180.68,1650.97 180.68,1646.07 181.26,1646.07 181.26,1647.91 181.88,1647.91 181.88,1684.00 181.90,1684.00 181.90,1684.00 188.10,1684.00 188.10,1649.75 188.72,1649.75 188.72,1619.79 189.00,1619.79 189.00,1684.00 195.60,1684.00 195.60,1627.29 196.25,1627.29 196.25,1661.28 196.97,1661.28 196.97,1655.64 197.90,1655.64 197.90,1652.96 199.05,1652.96 199.05,1626.93 200.40,1626.93 200.40,1653.45 202.20,1653.45 202.20,1684.00 208.50,1684.00 208.50,1650.48 210.08,1650.48 210.08,1642.65 210.96,1642.65 210.96,1668.98 215.71,1668.98 215.71,1643.77 216.67,1643.77 216.67,1659.38 221.81,1659.38 221.81,1666.59 222.68,1666.59 222.68,1643.38 223.90,1643.38 223.90,1668.68 229.09,1668.68 229.09,1638.80 230.56,1638.80 230.56,1666.59 232.08,1666.59 232.08,1659.11 237.17,1659.11 237.17,1666.59 238.51,1666.59 238.51,1647.51 239.98,1647.51 239.98,1632.87 240.82,1632.87 240.82,1632.75 242.24,1632.75 242.24,1641.02 242.91,1641.02 242.91,1641.07 243.50,1641.07 243.50,1636.23 243.96,1636.23 243.96,1652.08 244.39,1652.08 244.39,1658.19 244.97,1658.19 244.97,1650.64 249.54,1650.64 249.54,1633.59 250.42,1633.59 250.42,1658.56 250.71,1658.56 250.71,1655.28 251.68,1655.28 251.68,1662.47 252.73,1662.47 252.73,1652.08 253.76,1652.08 253.76,1658.10 255.06,1658.10 255.06,1642.30 256.63,1642.30 256.63,1643.18 257.04,1643.18 257.04,1645.47 258.38,1645.47 258.38,1643.26 258.83,1643.26 258.83,1636.09 259.53,1636.09 259.53,1658.70 260.20,1658.70 260.20,1657.31 260.59,1657.31 260.59,1659.65 261.83,1659.65 261.83,1627.04 263.13,1627.04 263.13,1635.09 263.73,1635.09 263.73,1637.45 265.12,1637.45 265.12,1662.83 269.95,1662.83 269.95,1648.06 270.57,1648.06 270.57,1640.40 271.49,1640.40 271.49,1646.40 276.10,1646.40 276.10,1647.04 277.29,1647.04 277.29,1666.59 278.71,1666.59 278.71,1666.59 279.40,1666.59 279.40,1684.00 288.90,1684.00 288.90,1640.43 289.47,1640.43 289.47,1621.16 290.46,1621.16 290.46,1654.04 295.69,1654.04 295.69,1623.13 296.38,1623.13 296.38,1666.59 297.48,1666.59 297.48,1660.37 298.33,1660.37 298.33,1645.60 299.33,1645.60 299.33,1666.59 300.00,1666.59 300.00,1658.28 300.31,1658.28 300.31,1650.14 301.60,1650.14 301.60,1629.80 301.84,1629.80 301.84,1623.73 303.36,1623.73 303.36,1660.90 303.78,1660.90 303.78,1630.32 305.32,1630.32 305.32,1620.84 305.90,1620.84 305.90,1640.38 306.25,1640.38 306.25,1639.67 307.22,1639.67 307.22,1666.59 308.37,1666.59 308.37,1644.30 309.05,1644.30 309.05,1631.33 310.00,1631.33 310.00,1684.00" fill="#0000ff" stroke="#0000ff" stroke-width="4.4" stroke-linejoin="round"/>
<polygon points="424.50,1684.00 424.50,1662.70 429.17,1662.70 429.17,1654.29 430.07,1654.29 430.07,1665.89 431.45,1665.89 431.45,1646.55 432.17,1646.55 432.17,1652.32 436.67,1652.32 436.67,1646.12 438.04,1646.12 438.04,1646.32 442.64,1646.32 442.64,1643.01 443.06,1643.01 443.06,1666.10 447.85,1666.10 447.85,1619.16 449.35,1619.16 449.35,1659.74 450.35,1659.74 450.35,1631.02 451.01,1631.02 451.01,1633.67 451.81,1633.67 451.81,1649.38 452.64,1649.38 452.64,1668.89 453.30,1668.89 453.30,1684.00 459.10,1684.00 459.10,1641.58 459.84,1641.58 459.84,1684.00 466.25,1684.00 466.25,1658.18 467.00,1658.18 467.00,1684.00 474.60,1684.00 474.60,1664.09 475.67,1664.09 475.67,1665.29 476.39,1665.29 476.39,1670.06 477.31,1670.06 477.31,1655.35 477.70,1655.35 477.70,1684.00 484.11,1684.00 484.11,1663.07 485.66,1663.07 485.66,1650.96 487.15,1650.96 487.15,1648.06 487.59,1648.06 487.59,1625.83 489.16,1625.83 489.16,1650.54 490.03,1650.54 490.03,1643.60 490.28,1643.60 490.28,1684.00 496.56,1684.00 496.56,1656.45 497.70,1656.45 497.70,1646.91 500.00,1632.00 503.50,1632.00 503.50,1620.00 506.00,1620.00 506.00,1605.00 508.50,1605.00 508.50,1585.00 510.50,1585.00 510.50,1561.00 514.50,1561.00 514.50,1572.00 516.00,1572.00 516.00,1684.00 522.50,1684.00 522.50,1548.00 525.00,1548.00 525.00,1552.00 528.50,1552.00 528.50,1600.00 530.00,1600.00 530.00,1640.00 531.00,1640.00 531.00,1632.00 536.50,1632.00 536.50,1684.00 540.00,1684.00 540.00,1590.00 541.50,1590.00 541.50,1574.00 544.50,1574.00 544.50,1590.00 546.00,1590.00 546.00,1615.00 549.00,1615.00 549.00,1635.00 552.00,1635.00 555.12,1654.96 555.12,1645.62 555.50,1645.62 555.50,1664.41 555.96,1664.41 555.96,1626.67 557.48,1626.67 557.48,1618.36 558.05,1618.36 558.05,1656.75 558.44,1656.75 558.44,1642.39 559.22,1642.39 559.22,1638.47 560.48,1638.47 560.48,1622.66 560.97,1622.66 560.97,1657.12 561.29,1657.12 561.29,1645.69 561.76,1645.69 561.76,1646.67 562.10,1646.67 562.10,1646.86 567.13,1646.86 567.13,1670.06 567.96,1670.06 567.96,1670.06 569.49,1670.06 569.49,1630.30 570.15,1630.30 570.15,1641.42 570.72,1641.42 570.72,1649.46 575.43,1649.46 575.43,1637.86 575.84,1637.86 575.84,1645.60 576.10,1645.60 576.10,1684.00 581.98,1684.00 581.98,1639.96 582.20,1639.96 582.20,1684.00 589.40,1684.00 589.40,1665.36 594.03,1665.36 594.03,1642.05 595.12,1642.05 595.12,1684.00 601.36,1684.00 601.36,1663.38 602.89,1663.38 602.89,1649.37 603.36,1649.37 603.36,1670.06 603.84,1670.06 603.84,1646.95 604.90,1646.95 604.90,1644.42 605.95,1644.42 605.95,1644.35 606.36,1644.35 606.36,1668.17 606.68,1668.17 606.68,1654.73 611.26,1654.73 611.26,1656.20 611.47,1656.20 611.47,1647.01 612.22,1647.01 612.22,1663.88 613.01,1663.88 613.01,1668.90 613.98,1668.90 613.98,1664.08 614.21,1664.08 614.21,1641.43 614.72,1641.43 614.72,1639.12 615.07,1639.12 615.07,1637.50 616.01,1637.50 616.01,1663.70 617.24,1663.70 617.24,1661.89 617.69,1661.89 617.69,1656.35 618.97,1656.35 618.97,1670.06 620.19,1670.06 620.19,1670.06 620.79,1670.06 620.79,1643.65 622.27,1643.65 622.27,1653.23 627.43,1653.23 627.43,1646.63 627.90,1646.63 627.90,1652.97 633.11,1652.97 633.11,1659.27 634.64,1659.27 634.64,1664.04 635.52,1664.04 635.52,1655.96 636.44,1655.96 636.44,1658.60 637.55,1658.60 637.55,1650.21 638.35,1650.21 638.35,1633.72 638.64,1633.72 638.64,1656.23 640.11,1656.23 640.11,1670.06 641.68,1670.06 641.68,1617.64 642.61,1617.64 642.61,1667.22 643.88,1667.22 643.88,1635.05 644.99,1635.05 644.99,1659.52 645.50,1659.52 645.50,1652.22 650.29,1652.22 650.29,1645.70 650.95,1645.70 650.95,1637.70 651.30,1637.70 651.30,1643.58 651.75,1643.58 651.75,1659.45 656.59,1659.45 656.59,1649.08 658.09,1649.08 658.09,1646.14 658.20,1646.14 658.20,1684.00 669.10,1684.00 669.10,1642.43 670.36,1642.43 670.36,1665.96 671.96,1665.96 671.96,1653.66 673.51,1653.66 673.51,1663.81 673.98,1663.81 673.98,1667.54 675.13,1667.54 675.13,1642.44 676.05,1642.44 676.05,1684.00 681.79,1684.00 681.79,1663.83 682.31,1663.83 682.31,1643.31 682.55,1643.31 682.55,1650.22 687.47,1650.22 687.47,1649.34 688.08,1649.34 688.08,1628.56 689.39,1628.56 689.39,1628.95 689.88,1628.95 689.88,1656.27 690.67,1656.27 690.67,1645.54 691.01,1645.54 691.01,1670.06 692.49,1670.06 692.49,1634.03 692.99,1634.03 692.99,1618.10 694.21,1618.10 694.21,1643.22 695.10,1643.22 695.10,1667.75 695.80,1667.75 695.80,1684.00 704.60,1684.00 704.60,1646.98 705.03,1646.98 705.03,1665.03 705.75,1665.03 705.75,1641.72 706.79,1641.72 706.79,1661.29 711.86,1661.29 711.86,1656.94 713.31,1656.94 713.31,1652.80 713.63,1652.80 713.63,1641.69 713.93,1641.69 713.93,1670.06 714.59,1670.06 714.59,1623.80 716.09,1623.80 716.09,1634.84 717.37,1634.84 717.37,1640.12 718.17,1640.12 718.17,1633.92 718.56,1633.92 718.56,1637.31 718.87,1637.31 718.87,1651.55 720.12,1651.55 720.12,1632.66 721.65,1632.66 721.65,1654.71 726.18,1654.71 726.18,1632.98 726.61,1632.98 726.61,1652.28 726.96,1652.28 726.96,1641.43 728.01,1641.43 728.01,1641.87 729.48,1641.87 729.48,1635.43 731.03,1635.43 731.03,1621.31 732.56,1621.31 732.56,1659.61 734.07,1659.61 734.07,1648.01 738.81,1648.01 738.81,1618.79 739.37,1618.79 739.37,1629.11 740.72,1629.11 740.72,1641.03 741.93,1641.03 741.93,1635.87 743.09,1635.87 743.09,1647.64 743.78,1647.64 743.78,1684.00 749.78,1684.00 749.78,1650.80 749.99,1650.80 749.99,1662.90 750.48,1662.90 750.48,1665.11 751.62,1665.11 751.62,1636.42 752.35,1636.42 752.35,1662.81 757.49,1662.81 757.49,1661.59 757.97,1661.59 757.97,1642.01 758.00,1642.01 758.00,1684.00" fill="#0000ff" stroke="#0000ff" stroke-width="4.4" stroke-linejoin="round"/>
<polyline points="310.00,1631.33 310.20,1628.70 312.30,1615.90 315.50,1596.80 317.60,1577.70 320.80,1560.70 324.00,1543.70 328.20,1528.80 331.40,1509.70 335.70,1492.70 341.00,1475.70 347.40,1458.70 352.70,1437.50 354.70,1421.50 356.50,1409.20 358.40,1396.90 359.60,1384.60 360.80,1372.30 362.10,1360.00 363.90,1347.70 365.70,1338.40 368.20,1331.10 372.00,1326.80 375.60,1329.80 378.00,1337.20 379.90,1347.70 381.70,1360.00 383.60,1372.30 384.80,1384.60 386.00,1396.90 387.30,1409.20 389.10,1421.50 390.90,1437.50 393.00,1454.50 398.30,1467.20 402.60,1475.70 404.70,1486.30 409.00,1507.60 412.20,1518.20 415.30,1531.00 417.50,1543.70 419.60,1565.00 420.70,1586.20 422.80,1607.40 424.00,1613.80 424.50,1662.70" fill="none" stroke="#0000ff" stroke-width="4.4" stroke-linejoin="round" stroke-linecap="butt"/>
</g>
<text x="152.58" y="68.20" font-size="51.5" font-weight="bold" fill="#000">(a)</text>
<text x="400.49" y="59.40" font-size="36.2" font-weight="bold" fill="#000">Original cavity length</text>
<text x="443.10" y="149.70" font-size="36.2" font-weight="bold" fill="#000">1239.6 nm</text>
<line x1="372.50" y1="200.80" x2="372.50" y2="559.60" stroke="#000" stroke-width="4.6" stroke-dasharray="12.5 9.0"/>
<line x1="459.40" y1="165.30" x2="398.61" y2="195.81" stroke="#000" stroke-width="4.2" stroke-linecap="butt"/>
<polygon points="379.30,205.50 388.17,199.10 395.45,192.53 400.18,186.91 399.81,195.21 406.68,199.87 399.35,200.30 389.73,202.21" fill="#000"/>
<text x="152.58" y="616.40" font-size="51.5" font-weight="bold" fill="#000">(c)</text>
<text x="401.69" y="626.60" font-size="36.2" font-weight="bold" fill="#000">Cavity length + 14μm</text>
<text x="168.90" y="694.60" font-size="36.2" font-weight="bold" fill="#000">1239.6 nm</text>
<line x1="359.20" y1="779.60" x2="359.20" y2="1117.70" stroke="#000" stroke-width="4.6" stroke-dasharray="12.5 9.0"/>
<line x1="505.00" y1="834.40" x2="505.00" y2="973.00" stroke="#000" stroke-width="4.6" stroke-dasharray="12.5 9.0"/>
<line x1="286.90" y1="718.90" x2="341.84" y2="764.25" stroke="#000" stroke-width="4.2" stroke-linecap="butt"/>
<polygon points="358.50,778.00 349.06,772.47 340.11,768.46 333.06,766.40 340.80,763.39 342.29,755.22 345.65,761.75 351.28,769.78" fill="#000"/>
<line x1="380.05" y1="847.90" x2="482.85" y2="847.90" stroke="#000" stroke-width="4.4" stroke-linecap="butt"/>
<polygon points="354.40,847.90 365.80,846.24 375.77,843.76 382.90,841.00 382.90,847.90 382.90,854.80 375.77,852.04 365.80,849.56" fill="#000"/>
<polygon points="508.50,847.90 497.10,849.56 487.12,852.04 480.00,854.80 480.00,847.90 480.00,841.00 487.12,843.76 497.10,846.24" fill="#000"/>
<text x="152.58" y="1174.30" font-size="51.5" font-weight="bold" fill="#000">(e)</text>
<text x="422.79" y="1179.70" font-size="36.2" font-weight="bold" fill="#000">Cavity length -14μm</text>
<text x="141.40" y="1252.60" font-size="36.2" font-weight="bold" fill="#000">1239.6 nm</text>
<line x1="373.30" y1="1329.00" x2="373.30" y2="1677.50" stroke="#000" stroke-width="4.6" stroke-dasharray="12.5 9.0"/>
<line x1="524.10" y1="1369.50" x2="524.10" y2="1552.00" stroke="#000" stroke-width="4.6" stroke-dasharray="12.5 9.0"/>
<line x1="292.10" y1="1264.70" x2="351.48" y2="1315.46" stroke="#000" stroke-width="4.2" stroke-linecap="butt"/>
<polygon points="367.90,1329.50 358.56,1323.80 349.68,1319.65 342.67,1317.47 350.46,1314.59 352.09,1306.44 355.33,1313.04 360.82,1321.16" fill="#000"/>
<line x1="389.65" y1="1411.50" x2="505.55" y2="1411.50" stroke="#000" stroke-width="4.4" stroke-linecap="butt"/>
<polygon points="364.00,1411.50 375.40,1409.84 385.38,1407.36 392.50,1404.60 392.50,1411.50 392.50,1418.40 385.38,1415.64 375.40,1413.16" fill="#000"/>
<polygon points="531.20,1411.50 519.80,1413.16 509.83,1415.64 502.70,1418.40 502.70,1411.50 502.70,1404.60 509.83,1407.36 519.80,1409.84" fill="#000"/>
<text x="450.90" y="742.70" font-size="36.2" fill="#000">Δν = <tspan font-weight="bold">68.3 GHz</tspan></text>
<text x="452.50" y="1290.20" font-size="36.2" fill="#000">Δν = <tspan font-weight="bold">70.2 GHz</tspan></text>
<text x="413.90" y="832.8" font-size="36.2" fill="#000">Δν</text>
<text x="430.80" y="1396.7" font-size="36.2" fill="#000">Δν</text>
<rect x="933.50" y="235.10" width="12.90" height="10.70" fill="#c0c0c0"/>
<line x1="944.20" y1="244.00" x2="972.80" y2="510.00" stroke="#c0c0c0" stroke-width="4.8" stroke-linecap="butt"/>
<polygon points="975.00,504.11 981.40,504.11 982.60,500.09 989.00,500.09 990.20,496.07 996.60,496.07 997.80,492.06 1004.20,492.06 1005.40,488.05 1011.80,488.05 1013.00,484.05 1019.40,484.05 1020.60,480.05 1027.00,480.05 1028.20,476.06 1034.60,476.06 1035.80,472.08 1042.20,472.08 1043.40,468.10 1049.80,468.10 1051.00,464.12 1057.40,464.12 1058.60,460.15 1065.00,460.15 1066.20,456.19 1072.60,456.19 1073.80,452.23 1080.20,452.23 1081.40,448.28 1087.80,448.28 1089.00,444.33 1095.40,444.33 1096.60,440.39 1103.00,440.39 1104.20,436.45 1110.60,436.45 1111.80,432.52 1118.20,432.52 1119.40,428.59 1125.80,428.59 1127.00,424.67 1133.40,424.67 1134.60,420.75 1141.00,420.75 1142.20,416.84 1148.60,416.84 1149.80,412.94 1156.20,412.94 1157.40,409.04 1163.80,409.04 1165.00,405.14 1171.40,405.14 1172.60,401.25 1179.00,401.25 1180.20,397.37 1186.60,397.37 1187.80,393.49 1194.20,393.49 1195.40,389.62 1201.80,389.62 1203.00,385.75 1209.40,385.75 1210.60,381.89 1217.00,381.89 1218.20,378.03 1224.60,378.03 1225.80,374.18 1232.20,374.18 1233.40,370.33 1239.80,370.33 1241.00,366.49 1247.40,366.49 1248.60,362.65 1255.00,362.65 1256.20,358.82 1262.60,358.82 1263.80,355.00 1270.20,355.00 1271.40,351.18 1277.80,351.18 1279.00,347.36 1285.40,347.36 1286.60,343.55 1293.00,343.55 1294.20,339.75 1300.60,339.75 1301.80,335.95 1308.20,335.95 1309.40,332.16 1315.80,332.16 1317.00,328.37 1323.40,328.37 1324.60,324.59 1331.00,324.59 1332.20,320.81 1338.60,320.81 1339.80,317.04 1346.20,317.04 1347.40,313.27 1353.80,313.27 1355.00,309.51 1361.40,309.51 1362.60,305.75 1369.00,305.75 1370.20,302.00 1376.60,302.00 1377.80,298.26 1384.20,298.26 1385.40,294.52 1391.80,294.52 1393.00,290.78 1399.40,290.78 1400.60,287.06 1407.00,287.06 1408.20,283.33 1414.60,283.33 1415.80,279.61 1422.20,279.61 1423.40,275.90 1429.80,275.90 1431.00,272.19 1437.40,272.19 1438.60,268.49 1445.00,268.49 1446.20,264.79 1452.60,264.79 1453.80,261.10 1460.20,261.10 1461.40,257.41 1467.80,257.41 1469.00,253.73 1475.40,253.73 1476.60,250.06 1483.00,250.06 1484.20,246.39 1490.60,246.39 1491.80,242.72 1498.20,242.72 1499.40,239.06 1505.80,239.06 1507.00,235.41 1514.40,235.41 1514.40,246.85 1507.00,246.85 1505.80,250.50 1499.40,250.50 1498.20,254.17 1491.80,254.17 1490.60,257.83 1484.20,257.83 1483.00,261.51 1476.60,261.51 1475.40,265.18 1469.00,265.18 1467.80,268.87 1461.40,268.87 1460.20,272.56 1453.80,272.56 1452.60,276.25 1446.20,276.25 1445.00,279.95 1438.60,279.95 1437.40,283.65 1431.00,283.65 1429.80,287.36 1423.40,287.36 1422.20,291.08 1415.80,291.08 1414.60,294.80 1408.20,294.80 1407.00,298.53 1400.60,298.53 1399.40,302.26 1393.00,302.26 1391.80,305.99 1385.40,305.99 1384.20,309.74 1377.80,309.74 1376.60,313.48 1370.20,313.48 1369.00,317.24 1362.60,317.24 1361.40,320.99 1355.00,320.99 1353.80,324.76 1347.40,324.76 1346.20,328.53 1339.80,328.53 1338.60,332.30 1332.20,332.30 1331.00,336.08 1324.60,336.08 1323.40,339.86 1317.00,339.86 1315.80,343.65 1309.40,343.65 1308.20,347.45 1301.80,347.45 1300.60,351.25 1294.20,351.25 1293.00,355.06 1286.60,355.06 1285.40,358.87 1279.00,358.87 1277.80,362.69 1271.40,362.69 1270.20,366.51 1263.80,366.51 1262.60,370.33 1256.20,370.33 1255.00,374.17 1248.60,374.17 1247.40,378.01 1241.00,378.01 1239.80,381.85 1233.40,381.85 1232.20,385.70 1225.80,385.70 1224.60,389.55 1218.20,389.55 1217.00,393.41 1210.60,393.41 1209.40,397.28 1203.00,397.28 1201.80,401.15 1195.40,401.15 1194.20,405.02 1187.80,405.02 1186.60,408.90 1180.20,408.90 1179.00,412.79 1172.60,412.79 1171.40,416.68 1165.00,416.68 1163.80,420.58 1157.40,420.58 1156.20,424.48 1149.80,424.48 1148.60,428.39 1142.20,428.39 1141.00,432.30 1134.60,432.30 1133.40,436.22 1127.00,436.22 1125.80,440.14 1119.40,440.14 1118.20,444.07 1111.80,444.07 1110.60,448.00 1104.20,448.00 1103.00,451.94 1096.60,451.94 1095.40,455.89 1089.00,455.89 1087.80,459.84 1081.40,459.84 1080.20,463.79 1073.80,463.79 1072.60,467.75 1066.20,467.75 1065.00,471.72 1058.60,471.72 1057.40,475.69 1051.00,475.69 1049.80,479.67 1043.40,479.67 1042.20,483.65 1035.80,483.65 1034.60,487.64 1028.20,487.64 1027.00,491.63 1020.60,491.63 1019.40,495.63 1013.00,495.63 1011.80,499.63 1005.40,499.63 1004.20,503.64 997.80,503.64 996.60,507.65 990.20,507.65 989.00,511.67 982.60,511.67 981.40,515.70 975.00,515.70" fill="#c0c0c0"/>
<rect x="1506.50" y="235.20" width="8.00" height="10.20" fill="#c0c0c0"/>
<rect x="970.40" y="503.00" width="5.60" height="10.40" fill="#c0c0c0"/>
<line x1="1513.80" y1="244.00" x2="1541.60" y2="510.00" stroke="#c0c0c0" stroke-width="4.8" stroke-linecap="butt"/>
<polygon points="1539.20,502.33 1545.60,502.33 1546.80,498.26 1553.20,498.26 1554.40,494.20 1560.80,494.20 1562.00,490.13 1568.40,490.13 1569.60,486.07 1570.50,486.07 1570.50,497.67 1569.60,497.67 1568.40,501.74 1562.00,501.74 1560.80,505.80 1554.40,505.80 1553.20,509.87 1546.80,509.87 1545.60,513.93 1539.20,513.93" fill="#c0c0c0"/>
<rect x="1539.20" y="503.00" width="4.80" height="10.40" fill="#c0c0c0"/>
<rect x="933.00" y="550.40" width="637.50" height="11.40" fill="#ff0000"/>
<polyline points="955.90,553.90 955.90,546.80 957.50,546.80 957.50,553.90" fill="none" stroke="#ff0000" stroke-width="4.4" stroke-linejoin="round" stroke-linecap="butt"/>
<polyline points="1496.70,553.90 1496.70,547.70 1498.30,547.70 1498.30,553.90" fill="none" stroke="#ff0000" stroke-width="4.4" stroke-linejoin="round" stroke-linecap="butt"/>
<polyline points="1525.60,553.90 1525.60,536.70 1527.20,536.70 1527.20,553.90" fill="none" stroke="#ff0000" stroke-width="4.4" stroke-linejoin="round" stroke-linecap="butt"/>
<polygon points="1020.75,102.00 1020.75,411.80 1019.90,441.80 1019.20,491.80 1019.00,526.80 1018.20,533.80 1016.90,545.80 1015.90,550.30 1015.90,561.80 1031.48,561.80 1031.48,550.30 1030.43,545.80 1029.07,533.80 1028.22,526.80 1028.02,491.80 1027.28,441.80 1026.39,411.80 1026.25,102.00" fill="#ff0000"/>
<ellipse cx="1023.50" cy="102.10" rx="2.75" ry="2.6" fill="#ff0000"/>
<polygon points="1023.10,528.80 1024.90,528.80 1024.90,555.80 1027.30,562.00 1021.10,562.00 1023.10,555.80" fill="#fff"/>
<polygon points="1240.60,152.60 1240.60,411.80 1239.70,441.80 1239.00,491.80 1238.80,526.80 1238.00,533.80 1236.70,545.80 1235.70,550.30 1235.70,561.80 1251.28,561.80 1251.28,550.30 1250.23,545.80 1248.87,533.80 1248.02,526.80 1247.82,491.80 1247.08,441.80 1246.13,411.80 1246.00,152.60" fill="#ff0000"/>
<ellipse cx="1243.30" cy="152.70" rx="2.70" ry="2.6" fill="#ff0000"/>
<polygon points="1242.90,535.80 1244.70,535.80 1244.70,555.80 1247.10,562.00 1240.90,562.00 1242.90,555.80" fill="#fff"/>
<polygon points="1443.75,191.80 1443.75,411.80 1442.80,441.80 1442.10,491.80 1441.90,526.80 1441.10,533.80 1439.80,545.80 1438.80,550.30 1438.80,561.80 1454.38,561.80 1454.38,550.30 1453.33,545.80 1451.97,533.80 1451.12,526.80 1450.92,491.80 1450.18,441.80 1449.18,411.80 1449.05,191.80" fill="#ff0000"/>
<ellipse cx="1446.40" cy="191.90" rx="2.65" ry="2.6" fill="#ff0000"/>
<polygon points="1446.00,539.80 1447.80,539.80 1447.80,555.80 1450.20,562.00 1444.00,562.00 1446.00,555.80" fill="#fff"/>
<rect x="929.10" y="561.80" width="645.30" height="5.20" fill="#000"/>
<rect x="933.50" y="793.10" width="12.90" height="10.70" fill="#c0c0c0"/>
<line x1="944.20" y1="802.00" x2="972.80" y2="1068.00" stroke="#c0c0c0" stroke-width="4.8" stroke-linecap="butt"/>
<polygon points="975.00,1062.11 981.40,1062.11 982.60,1058.09 989.00,1058.09 990.20,1054.07 996.60,1054.07 997.80,1050.06 1004.20,1050.06 1005.40,1046.05 1011.80,1046.05 1013.00,1042.05 1019.40,1042.05 1020.60,1038.05 1027.00,1038.05 1028.20,1034.06 1034.60,1034.06 1035.80,1030.08 1042.20,1030.08 1043.40,1026.10 1049.80,1026.10 1051.00,1022.12 1057.40,1022.12 1058.60,1018.15 1065.00,1018.15 1066.20,1014.19 1072.60,1014.19 1073.80,1010.23 1080.20,1010.23 1081.40,1006.28 1087.80,1006.28 1089.00,1002.33 1095.40,1002.33 1096.60,998.39 1103.00,998.39 1104.20,994.45 1110.60,994.45 1111.80,990.52 1118.20,990.52 1119.40,986.59 1125.80,986.59 1127.00,982.67 1133.40,982.67 1134.60,978.75 1141.00,978.75 1142.20,974.84 1148.60,974.84 1149.80,970.94 1156.20,970.94 1157.40,967.04 1163.80,967.04 1165.00,963.14 1171.40,963.14 1172.60,959.25 1179.00,959.25 1180.20,955.37 1186.60,955.37 1187.80,951.49 1194.20,951.49 1195.40,947.62 1201.80,947.62 1203.00,943.75 1209.40,943.75 1210.60,939.89 1217.00,939.89 1218.20,936.03 1224.60,936.03 1225.80,932.18 1232.20,932.18 1233.40,928.33 1239.80,928.33 1241.00,924.49 1247.40,924.49 1248.60,920.65 1255.00,920.65 1256.20,916.82 1262.60,916.82 1263.80,913.00 1270.20,913.00 1271.40,909.18 1277.80,909.18 1279.00,905.36 1285.40,905.36 1286.60,901.55 1293.00,901.55 1294.20,897.75 1300.60,897.75 1301.80,893.95 1308.20,893.95 1309.40,890.16 1315.80,890.16 1317.00,886.37 1323.40,886.37 1324.60,882.59 1331.00,882.59 1332.20,878.81 1338.60,878.81 1339.80,875.04 1346.20,875.04 1347.40,871.27 1353.80,871.27 1355.00,867.51 1361.40,867.51 1362.60,863.75 1369.00,863.75 1370.20,860.00 1376.60,860.00 1377.80,856.26 1384.20,856.26 1385.40,852.52 1391.80,852.52 1393.00,848.78 1399.40,848.78 1400.60,845.06 1407.00,845.06 1408.20,841.33 1414.60,841.33 1415.80,837.61 1422.20,837.61 1423.40,833.90 1429.80,833.90 1431.00,830.19 1437.40,830.19 1438.60,826.49 1445.00,826.49 1446.20,822.79 1452.60,822.79 1453.80,819.10 1460.20,819.10 1461.40,815.41 1467.80,815.41 1469.00,811.73 1475.40,811.73 1476.60,808.06 1483.00,808.06 1484.20,804.39 1490.60,804.39 1491.80,800.72 1498.20,800.72 1499.40,797.06 1505.80,797.06 1507.00,793.41 1514.40,793.41 1514.40,804.85 1507.00,804.85 1505.80,808.50 1499.40,808.50 1498.20,812.17 1491.80,812.17 1490.60,815.83 1484.20,815.83 1483.00,819.51 1476.60,819.51 1475.40,823.18 1469.00,823.18 1467.80,826.87 1461.40,826.87 1460.20,830.56 1453.80,830.56 1452.60,834.25 1446.20,834.25 1445.00,837.95 1438.60,837.95 1437.40,841.65 1431.00,841.65 1429.80,845.36 1423.40,845.36 1422.20,849.08 1415.80,849.08 1414.60,852.80 1408.20,852.80 1407.00,856.53 1400.60,856.53 1399.40,860.26 1393.00,860.26 1391.80,863.99 1385.40,863.99 1384.20,867.74 1377.80,867.74 1376.60,871.48 1370.20,871.48 1369.00,875.24 1362.60,875.24 1361.40,878.99 1355.00,878.99 1353.80,882.76 1347.40,882.76 1346.20,886.53 1339.80,886.53 1338.60,890.30 1332.20,890.30 1331.00,894.08 1324.60,894.08 1323.40,897.86 1317.00,897.86 1315.80,901.65 1309.40,901.65 1308.20,905.45 1301.80,905.45 1300.60,909.25 1294.20,909.25 1293.00,913.06 1286.60,913.06 1285.40,916.87 1279.00,916.87 1277.80,920.69 1271.40,920.69 1270.20,924.51 1263.80,924.51 1262.60,928.33 1256.20,928.33 1255.00,932.17 1248.60,932.17 1247.40,936.01 1241.00,936.01 1239.80,939.85 1233.40,939.85 1232.20,943.70 1225.80,943.70 1224.60,947.55 1218.20,947.55 1217.00,951.41 1210.60,951.41 1209.40,955.28 1203.00,955.28 1201.80,959.15 1195.40,959.15 1194.20,963.02 1187.80,963.02 1186.60,966.90 1180.20,966.90 1179.00,970.79 1172.60,970.79 1171.40,974.68 1165.00,974.68 1163.80,978.58 1157.40,978.58 1156.20,982.48 1149.80,982.48 1148.60,986.39 1142.20,986.39 1141.00,990.30 1134.60,990.30 1133.40,994.22 1127.00,994.22 1125.80,998.14 1119.40,998.14 1118.20,1002.07 1111.80,1002.07 1110.60,1006.00 1104.20,1006.00 1103.00,1009.94 1096.60,1009.94 1095.40,1013.89 1089.00,1013.89 1087.80,1017.84 1081.40,1017.84 1080.20,1021.79 1073.80,1021.79 1072.60,1025.75 1066.20,1025.75 1065.00,1029.72 1058.60,1029.72 1057.40,1033.69 1051.00,1033.69 1049.80,1037.67 1043.40,1037.67 1042.20,1041.65 1035.80,1041.65 1034.60,1045.64 1028.20,1045.64 1027.00,1049.63 1020.60,1049.63 1019.40,1053.63 1013.00,1053.63 1011.80,1057.63 1005.40,1057.63 1004.20,1061.64 997.80,1061.64 996.60,1065.65 990.20,1065.65 989.00,1069.67 982.60,1069.67 981.40,1073.70 975.00,1073.70" fill="#c0c0c0"/>
<rect x="1506.50" y="793.20" width="8.00" height="10.20" fill="#c0c0c0"/>
<rect x="970.40" y="1061.00" width="5.60" height="10.40" fill="#c0c0c0"/>
<line x1="1513.80" y1="802.00" x2="1541.60" y2="1068.00" stroke="#c0c0c0" stroke-width="4.8" stroke-linecap="butt"/>
<polygon points="1539.20,1060.33 1545.60,1060.33 1546.80,1056.26 1553.20,1056.26 1554.40,1052.20 1560.80,1052.20 1562.00,1048.13 1568.40,1048.13 1569.60,1044.07 1570.50,1044.07 1570.50,1055.67 1569.60,1055.67 1568.40,1059.74 1562.00,1059.74 1560.80,1063.80 1554.40,1063.80 1553.20,1067.87 1546.80,1067.87 1545.60,1071.93 1539.20,1071.93" fill="#c0c0c0"/>
<rect x="1539.20" y="1061.00" width="4.80" height="10.40" fill="#c0c0c0"/>
<rect x="933.00" y="1108.40" width="637.50" height="12.50" fill="#ff00ff"/>
<polyline points="1083.50,1111.90 1083.50,1100.00 1085.10,1100.00 1085.10,1111.90" fill="none" stroke="#ff00ff" stroke-width="4.4" stroke-linejoin="round" stroke-linecap="butt"/>
<polyline points="1092.70,1111.90 1092.70,1100.00 1094.30,1100.00 1094.30,1111.90" fill="none" stroke="#ff00ff" stroke-width="4.4" stroke-linejoin="round" stroke-linecap="butt"/>
<polyline points="1149.20,1111.90 1149.20,1106.20 1150.80,1106.20 1150.80,1111.90" fill="none" stroke="#ff00ff" stroke-width="4.4" stroke-linejoin="round" stroke-linecap="butt"/>
<polyline points="1497.00,1111.90 1497.00,1099.70 1498.60,1099.70 1498.60,1111.90" fill="none" stroke="#ff00ff" stroke-width="4.4" stroke-linejoin="round" stroke-linecap="butt"/>
<polyline points="1525.40,1111.90 1525.40,1099.20 1527.00,1099.20 1527.00,1111.90" fill="none" stroke="#ff00ff" stroke-width="4.4" stroke-linejoin="round" stroke-linecap="butt"/>
<polygon points="1163.90,861.50 1163.90,970.90 1163.30,1000.90 1162.60,1050.90 1162.40,1085.90 1161.60,1092.90 1160.30,1104.90 1159.30,1109.40 1159.30,1120.90 1174.88,1120.90 1174.88,1109.40 1173.83,1104.90 1172.47,1092.90 1171.62,1085.90 1171.42,1050.90 1170.68,1000.90 1170.05,970.90 1169.90,861.50" fill="#ff00ff"/>
<ellipse cx="1166.90" cy="861.60" rx="3.00" ry="2.6" fill="#ff00ff"/>
<polygon points="1166.50,1107.30 1168.30,1107.30 1168.30,1114.90 1170.70,1121.10 1164.50,1121.10 1166.50,1114.90" fill="#fff"/>
<polygon points="1373.00,895.50 1373.00,970.90 1372.40,1000.90 1371.70,1050.90 1371.50,1085.90 1370.70,1092.90 1369.40,1104.90 1368.40,1109.40 1368.40,1120.90 1383.98,1120.90 1383.98,1109.40 1382.93,1104.90 1381.57,1092.90 1380.72,1085.90 1380.52,1050.90 1379.78,1000.90 1379.15,970.90 1379.00,895.50" fill="#ff00ff"/>
<ellipse cx="1376.00" cy="895.60" rx="3.00" ry="2.6" fill="#ff00ff"/>
<polygon points="1375.60,1108.40 1377.40,1108.40 1377.40,1114.90 1379.80,1121.10 1373.60,1121.10 1375.60,1114.90" fill="#fff"/>
<rect x="929.10" y="1120.90" width="645.30" height="4.00" fill="#000"/>
<rect x="933.50" y="1352.10" width="12.90" height="10.70" fill="#c0c0c0"/>
<line x1="944.20" y1="1361.00" x2="972.80" y2="1627.00" stroke="#c0c0c0" stroke-width="4.8" stroke-linecap="butt"/>
<polygon points="975.00,1621.11 981.40,1621.11 982.60,1617.09 989.00,1617.09 990.20,1613.07 996.60,1613.07 997.80,1609.06 1004.20,1609.06 1005.40,1605.05 1011.80,1605.05 1013.00,1601.05 1019.40,1601.05 1020.60,1597.05 1027.00,1597.05 1028.20,1593.06 1034.60,1593.06 1035.80,1589.08 1042.20,1589.08 1043.40,1585.10 1049.80,1585.10 1051.00,1581.12 1057.40,1581.12 1058.60,1577.15 1065.00,1577.15 1066.20,1573.19 1072.60,1573.19 1073.80,1569.23 1080.20,1569.23 1081.40,1565.28 1087.80,1565.28 1089.00,1561.33 1095.40,1561.33 1096.60,1557.39 1103.00,1557.39 1104.20,1553.45 1110.60,1553.45 1111.80,1549.52 1118.20,1549.52 1119.40,1545.59 1125.80,1545.59 1127.00,1541.67 1133.40,1541.67 1134.60,1537.75 1141.00,1537.75 1142.20,1533.84 1148.60,1533.84 1149.80,1529.94 1156.20,1529.94 1157.40,1526.04 1163.80,1526.04 1165.00,1522.14 1171.40,1522.14 1172.60,1518.25 1179.00,1518.25 1180.20,1514.37 1186.60,1514.37 1187.80,1510.49 1194.20,1510.49 1195.40,1506.62 1201.80,1506.62 1203.00,1502.75 1209.40,1502.75 1210.60,1498.89 1217.00,1498.89 1218.20,1495.03 1224.60,1495.03 1225.80,1491.18 1232.20,1491.18 1233.40,1487.33 1239.80,1487.33 1241.00,1483.49 1247.40,1483.49 1248.60,1479.65 1255.00,1479.65 1256.20,1475.82 1262.60,1475.82 1263.80,1472.00 1270.20,1472.00 1271.40,1468.18 1277.80,1468.18 1279.00,1464.36 1285.40,1464.36 1286.60,1460.55 1293.00,1460.55 1294.20,1456.75 1300.60,1456.75 1301.80,1452.95 1308.20,1452.95 1309.40,1449.16 1315.80,1449.16 1317.00,1445.37 1323.40,1445.37 1324.60,1441.59 1331.00,1441.59 1332.20,1437.81 1338.60,1437.81 1339.80,1434.04 1346.20,1434.04 1347.40,1430.27 1353.80,1430.27 1355.00,1426.51 1361.40,1426.51 1362.60,1422.75 1369.00,1422.75 1370.20,1419.00 1376.60,1419.00 1377.80,1415.26 1384.20,1415.26 1385.40,1411.52 1391.80,1411.52 1393.00,1407.78 1399.40,1407.78 1400.60,1404.06 1407.00,1404.06 1408.20,1400.33 1414.60,1400.33 1415.80,1396.61 1422.20,1396.61 1423.40,1392.90 1429.80,1392.90 1431.00,1389.19 1437.40,1389.19 1438.60,1385.49 1445.00,1385.49 1446.20,1381.79 1452.60,1381.79 1453.80,1378.10 1460.20,1378.10 1461.40,1374.41 1467.80,1374.41 1469.00,1370.73 1475.40,1370.73 1476.60,1367.06 1483.00,1367.06 1484.20,1363.39 1490.60,1363.39 1491.80,1359.72 1498.20,1359.72 1499.40,1356.06 1505.80,1356.06 1507.00,1352.41 1514.40,1352.41 1514.40,1363.85 1507.00,1363.85 1505.80,1367.50 1499.40,1367.50 1498.20,1371.17 1491.80,1371.17 1490.60,1374.83 1484.20,1374.83 1483.00,1378.51 1476.60,1378.51 1475.40,1382.18 1469.00,1382.18 1467.80,1385.87 1461.40,1385.87 1460.20,1389.56 1453.80,1389.56 1452.60,1393.25 1446.20,1393.25 1445.00,1396.95 1438.60,1396.95 1437.40,1400.65 1431.00,1400.65 1429.80,1404.36 1423.40,1404.36 1422.20,1408.08 1415.80,1408.08 1414.60,1411.80 1408.20,1411.80 1407.00,1415.53 1400.60,1415.53 1399.40,1419.26 1393.00,1419.26 1391.80,1422.99 1385.40,1422.99 1384.20,1426.74 1377.80,1426.74 1376.60,1430.48 1370.20,1430.48 1369.00,1434.24 1362.60,1434.24 1361.40,1437.99 1355.00,1437.99 1353.80,1441.76 1347.40,1441.76 1346.20,1445.53 1339.80,1445.53 1338.60,1449.30 1332.20,1449.30 1331.00,1453.08 1324.60,1453.08 1323.40,1456.86 1317.00,1456.86 1315.80,1460.65 1309.40,1460.65 1308.20,1464.45 1301.80,1464.45 1300.60,1468.25 1294.20,1468.25 1293.00,1472.06 1286.60,1472.06 1285.40,1475.87 1279.00,1475.87 1277.80,1479.69 1271.40,1479.69 1270.20,1483.51 1263.80,1483.51 1262.60,1487.33 1256.20,1487.33 1255.00,1491.17 1248.60,1491.17 1247.40,1495.01 1241.00,1495.01 1239.80,1498.85 1233.40,1498.85 1232.20,1502.70 1225.80,1502.70 1224.60,1506.55 1218.20,1506.55 1217.00,1510.41 1210.60,1510.41 1209.40,1514.28 1203.00,1514.28 1201.80,1518.15 1195.40,1518.15 1194.20,1522.02 1187.80,1522.02 1186.60,1525.90 1180.20,1525.90 1179.00,1529.79 1172.60,1529.79 1171.40,1533.68 1165.00,1533.68 1163.80,1537.58 1157.40,1537.58 1156.20,1541.48 1149.80,1541.48 1148.60,1545.39 1142.20,1545.39 1141.00,1549.30 1134.60,1549.30 1133.40,1553.22 1127.00,1553.22 1125.80,1557.14 1119.40,1557.14 1118.20,1561.07 1111.80,1561.07 1110.60,1565.00 1104.20,1565.00 1103.00,1568.94 1096.60,1568.94 1095.40,1572.89 1089.00,1572.89 1087.80,1576.84 1081.40,1576.84 1080.20,1580.79 1073.80,1580.79 1072.60,1584.75 1066.20,1584.75 1065.00,1588.72 1058.60,1588.72 1057.40,1592.69 1051.00,1592.69 1049.80,1596.67 1043.40,1596.67 1042.20,1600.65 1035.80,1600.65 1034.60,1604.64 1028.20,1604.64 1027.00,1608.63 1020.60,1608.63 1019.40,1612.63 1013.00,1612.63 1011.80,1616.63 1005.40,1616.63 1004.20,1620.64 997.80,1620.64 996.60,1624.65 990.20,1624.65 989.00,1628.67 982.60,1628.67 981.40,1632.70 975.00,1632.70" fill="#c0c0c0"/>
<rect x="1506.50" y="1352.20" width="8.00" height="10.20" fill="#c0c0c0"/>
<rect x="970.40" y="1620.00" width="5.60" height="10.40" fill="#c0c0c0"/>
<line x1="1513.80" y1="1361.00" x2="1541.60" y2="1627.00" stroke="#c0c0c0" stroke-width="4.8" stroke-linecap="butt"/>
<polygon points="1539.20,1619.33 1545.60,1619.33 1546.80,1615.26 1553.20,1615.26 1554.40,1611.20 1560.80,1611.20 1562.00,1607.13 1568.40,1607.13 1569.60,1603.07 1570.50,1603.07 1570.50,1614.67 1569.60,1614.67 1568.40,1618.74 1562.00,1618.74 1560.80,1622.80 1554.40,1622.80 1553.20,1626.87 1546.80,1626.87 1545.60,1630.93 1539.20,1630.93" fill="#c0c0c0"/>
<rect x="1539.20" y="1620.00" width="4.80" height="10.40" fill="#c0c0c0"/>
<rect x="933.00" y="1667.00" width="637.50" height="11.00" fill="#0000ff"/>
<polyline points="955.20,1670.50 955.20,1658.70 956.80,1658.70 956.80,1670.50" fill="none" stroke="#0000ff" stroke-width="4.4" stroke-linejoin="round" stroke-linecap="butt"/>
<polyline points="1184.40,1670.50 1184.40,1653.20 1186.00,1653.20 1186.00,1670.50" fill="none" stroke="#0000ff" stroke-width="4.4" stroke-linejoin="round" stroke-linecap="butt"/>
<polyline points="1371.40,1670.50 1371.40,1647.00 1373.00,1647.00 1373.00,1670.50" fill="none" stroke="#0000ff" stroke-width="4.4" stroke-linejoin="round" stroke-linecap="butt"/>
<polyline points="1497.10,1670.50 1497.10,1658.10 1498.70,1658.10 1498.70,1670.50" fill="none" stroke="#0000ff" stroke-width="4.4" stroke-linejoin="round" stroke-linecap="butt"/>
<polyline points="1524.70,1670.50 1524.70,1653.10 1526.30,1653.10 1526.30,1670.50" fill="none" stroke="#0000ff" stroke-width="4.4" stroke-linejoin="round" stroke-linecap="butt"/>
<polygon points="1094.40,1364.80 1094.40,1528.00 1093.80,1558.00 1093.10,1608.00 1092.90,1643.00 1092.10,1650.00 1090.80,1662.00 1089.80,1666.50 1089.80,1678.00 1105.38,1678.00 1105.38,1666.50 1104.33,1662.00 1102.97,1650.00 1102.12,1643.00 1101.92,1608.00 1101.18,1558.00 1100.55,1528.00 1100.40,1364.80" fill="#0000ff"/>
<ellipse cx="1097.40" cy="1364.90" rx="3.00" ry="2.6" fill="#0000ff"/>
<polygon points="1097.00,1653.70 1098.80,1653.70 1098.80,1672.00 1101.20,1678.20 1095.00,1678.20 1097.00,1672.00" fill="#fff"/>
<polygon points="1308.00,1375.50 1308.00,1528.00 1307.40,1558.00 1306.70,1608.00 1306.50,1643.00 1305.70,1650.00 1304.40,1662.00 1303.40,1666.50 1303.40,1678.00 1318.98,1678.00 1318.98,1666.50 1317.93,1662.00 1316.57,1650.00 1315.72,1643.00 1315.52,1608.00 1314.78,1558.00 1314.15,1528.00 1314.00,1375.50" fill="#0000ff"/>
<ellipse cx="1311.00" cy="1375.60" rx="3.00" ry="2.6" fill="#0000ff"/>
<polygon points="1310.60,1656.00 1312.40,1656.00 1312.40,1672.00 1314.80,1678.20 1308.60,1678.20 1310.60,1672.00" fill="#fff"/>
<rect x="929.10" y="1678.00" width="645.30" height="4.00" fill="#000"/>
<rect x="929.10" y="4.80" width="645.30" height="4.40" fill="#000"/>
<rect x="929.10" y="4.80" width="4.60" height="1677.20" fill="#000"/>
<rect x="1570.00" y="4.80" width="4.40" height="1677.20" fill="#000"/>
<line x1="1098.20" y1="39.35" x2="1179.80" y2="39.35" stroke="#c0c0c0" stroke-width="4.5" stroke-linecap="round"/>
<line x1="1098.20" y1="84.75" x2="1179.80" y2="84.75" stroke="#ff0000" stroke-width="4.5" stroke-linecap="round"/>
<text x="1187.80" y="50.60" font-size="36.33" font-weight="bold" fill="#000">Scanning voltage signal</text>
<text x="1187.99" y="96.00" font-size="36.2" font-weight="bold" fill="#000">Original cavity length</text>
<line x1="1102.90" y1="601.00" x2="1183.70" y2="601.00" stroke="#c0c0c0" stroke-width="4.5" stroke-linecap="round"/>
<line x1="1102.90" y1="650.30" x2="1183.70" y2="650.30" stroke="#ff00ff" stroke-width="4.5" stroke-linecap="round"/>
<text x="1191.80" y="613.20" font-size="36.33" font-weight="bold" fill="#000">Scanning voltage signal</text>
<text x="1191.99" y="662.40" font-size="36.2" font-weight="bold" fill="#000">Cavity length + 14 μm</text>
<line x1="1096.70" y1="1162.80" x2="1177.90" y2="1162.80" stroke="#c0c0c0" stroke-width="4.5" stroke-linecap="round"/>
<line x1="1096.70" y1="1212.90" x2="1177.90" y2="1212.90" stroke="#0000ff" stroke-width="4.5" stroke-linecap="round"/>
<text x="1186.20" y="1174.60" font-size="36.33" font-weight="bold" fill="#000">Scanning voltage signal</text>
<text x="1186.39" y="1223.80" font-size="36.2" font-weight="bold" fill="#000">Cavity length - 14 μm</text>
<text x="950.18" y="68.40" font-size="51.5" font-weight="bold" fill="#000">(b)</text>
<text x="950.18" y="616.20" font-size="51.5" font-weight="bold" fill="#000">(d)</text>
<text x="955.88" y="1174.30" font-size="51.5" font-weight="bold" fill="#000">(f)</text>
<text x="1064.90" y="255.00" font-size="36.2" font-weight="bold" fill="#000">10 GHz</text>
<line x1="1050.70" y1="279.30" x2="1222.50" y2="279.30" stroke="#000" stroke-width="4.4" stroke-linecap="butt"/>
<polygon points="1027.30,279.30 1037.70,277.64 1046.80,275.16 1053.30,272.40 1053.30,279.30 1053.30,286.20 1046.80,283.44 1037.70,280.96" fill="#000"/>
<polygon points="1245.90,279.30 1235.50,280.96 1226.40,283.44 1219.90,286.20 1219.90,279.30 1219.90,272.40 1226.40,275.16 1235.50,277.64" fill="#000"/>
<text x="1202.90" y="970.50" font-size="36.2" font-weight="bold" fill="#000">10 GHz</text>
<line x1="1184.80" y1="1001.00" x2="1361.20" y2="1001.00" stroke="#000" stroke-width="4.4" stroke-linecap="butt"/>
<polygon points="1161.40,1001.00 1171.80,999.34 1180.90,996.86 1187.40,994.10 1187.40,1001.00 1187.40,1007.90 1180.90,1005.14 1171.80,1002.66" fill="#000"/>
<polygon points="1384.60,1001.00 1374.20,1002.66 1365.10,1005.14 1358.60,1007.90 1358.60,1001.00 1358.60,994.10 1365.10,996.86 1374.20,999.34" fill="#000"/>
<text x="1144.30" y="1390.60" font-size="36.2" font-weight="bold" fill="#000">10 GHz</text>
<line x1="1115.40" y1="1414.70" x2="1292.60" y2="1414.70" stroke="#000" stroke-width="4.4" stroke-linecap="butt"/>
<polygon points="1092.00,1414.70 1102.40,1413.04 1111.50,1410.56 1118.00,1407.80 1118.00,1414.70 1118.00,1421.60 1111.50,1418.84 1102.40,1416.36" fill="#000"/>
<polygon points="1316.00,1414.70 1305.60,1416.36 1296.50,1418.84 1290.00,1421.60 1290.00,1414.70 1290.00,1407.80 1296.50,1410.56 1305.60,1413.04" fill="#000"/>
</svg>
</body></html>
